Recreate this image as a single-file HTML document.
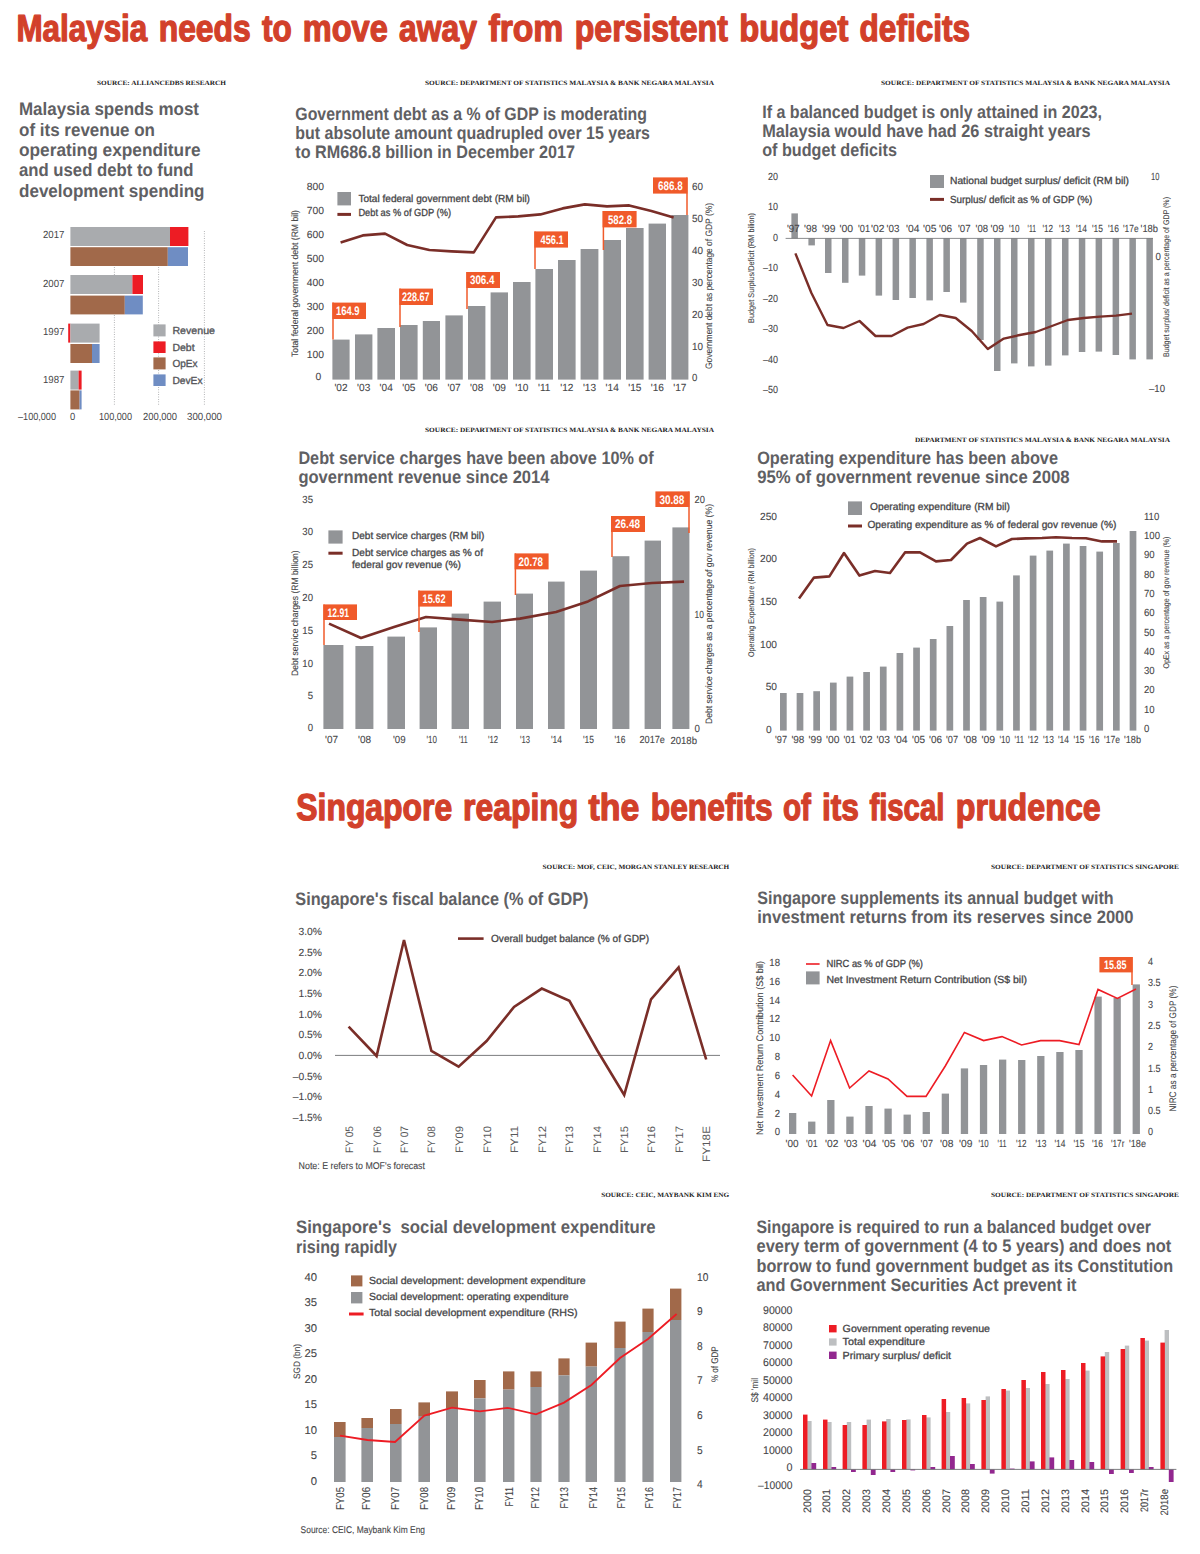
<!DOCTYPE html>
<html lang="en">
<head>
<meta charset="utf-8">
<title>Malaysia needs to move away from persistent budget deficits</title>
<style>
html,body{margin:0;padding:0;background:#fff}
body{width:1200px;height:1554px;overflow:hidden}
svg{display:block;font-family:"Liberation Sans",sans-serif;fill:#454547}
</style>
</head>
<body>
<svg width="1200" height="1554" viewBox="0 0 1200 1554" text-rendering="geometricPrecision">
<rect width="1200" height="1554" fill="#ffffff"/>
<text y="41" font-size="37.5" font-weight="bold" fill="#d2402a" stroke="#d2402a" stroke-width="1.3" stroke-linejoin="round"><tspan x="16.4" textLength="130.9" lengthAdjust="spacingAndGlyphs">Malaysia</tspan> <tspan x="158.7" textLength="92.1" lengthAdjust="spacingAndGlyphs">needs</tspan> <tspan x="262.1" textLength="29.8" lengthAdjust="spacingAndGlyphs">to</tspan> <tspan x="302.8" textLength="85" lengthAdjust="spacingAndGlyphs">move</tspan> <tspan x="399.1" textLength="77.9" lengthAdjust="spacingAndGlyphs">away</tspan> <tspan x="488.4" textLength="75" lengthAdjust="spacingAndGlyphs">from</tspan> <tspan x="574.8" textLength="153" lengthAdjust="spacingAndGlyphs">persistent</tspan> <tspan x="739.2" textLength="109.1" lengthAdjust="spacingAndGlyphs">budget</tspan> <tspan x="859.6" textLength="110.5" lengthAdjust="spacingAndGlyphs">deficits</tspan></text>
<text y="819.5" font-size="37.5" font-weight="bold" fill="#d2402a" stroke="#d2402a" stroke-width="1.3" stroke-linejoin="round"><tspan x="296.3" textLength="155.9" lengthAdjust="spacingAndGlyphs">Singapore</tspan> <tspan x="463" textLength="115.3" lengthAdjust="spacingAndGlyphs">reaping</tspan> <tspan x="588.6" textLength="50.8" lengthAdjust="spacingAndGlyphs">the</tspan> <tspan x="650.8" textLength="121.8" lengthAdjust="spacingAndGlyphs">benefits</tspan> <tspan x="783" textLength="28" lengthAdjust="spacingAndGlyphs">of</tspan> <tspan x="822" textLength="37" lengthAdjust="spacingAndGlyphs">its</tspan> <tspan x="869.4" textLength="75" lengthAdjust="spacingAndGlyphs">fiscal</tspan> <tspan x="955.7" textLength="145.1" lengthAdjust="spacingAndGlyphs">prudence</tspan></text>
<text x="97" y="85.3" font-size="6.6" font-weight="bold" font-family='"Liberation Serif", serif' fill="#1a1a1a" textLength="129" lengthAdjust="spacingAndGlyphs">SOURCE: ALLIANCEDBS RESEARCH</text>
<text x="19" y="115" font-size="18" font-weight="bold" fill="#5f6063" textLength="180" lengthAdjust="spacingAndGlyphs">Malaysia spends most</text>
<text x="19" y="135.7" font-size="18" font-weight="bold" fill="#5f6063" textLength="136" lengthAdjust="spacingAndGlyphs">of its revenue on</text>
<text x="19" y="156.2" font-size="18" font-weight="bold" fill="#5f6063" textLength="181.5" lengthAdjust="spacingAndGlyphs">operating expenditure</text>
<text x="19" y="176.3" font-size="18" font-weight="bold" fill="#5f6063" textLength="174.5" lengthAdjust="spacingAndGlyphs">and used debt to fund</text>
<text x="19" y="197" font-size="18" font-weight="bold" fill="#5f6063" textLength="185.5" lengthAdjust="spacingAndGlyphs">development spending</text>
<line x1="114.4" y1="231" x2="114.4" y2="406" stroke="#8a8c8e" stroke-width="0.8" stroke-dasharray="0.8 1.6"/>
<line x1="158.6" y1="231" x2="158.6" y2="406" stroke="#8a8c8e" stroke-width="0.8" stroke-dasharray="0.8 1.6"/>
<line x1="204.4" y1="231" x2="204.4" y2="406" stroke="#8a8c8e" stroke-width="0.8" stroke-dasharray="0.8 1.6"/>
<rect x="70.4" y="227" width="118" height="39" fill="#fff"/>
<rect x="70.4" y="275" width="72.6" height="39.4" fill="#fff"/>
<rect x="70.4" y="227" width="99.6" height="19" fill="#a9abae"/>
<rect x="170" y="227" width="18.4" height="19" fill="#ed1c24"/>
<rect x="70.4" y="247.2" width="97.4" height="18.8" fill="#a1694a"/>
<rect x="167.8" y="247.2" width="20.2" height="18.8" fill="#6f8dc3"/>
<rect x="70.4" y="275" width="62" height="19" fill="#a9abae"/>
<rect x="132.4" y="275" width="10.6" height="19" fill="#ed1c24"/>
<rect x="70.4" y="295.6" width="54.4" height="18.8" fill="#a1694a"/>
<rect x="124.8" y="295.6" width="18" height="18.8" fill="#6f8dc3"/>
<rect x="68.2" y="323.6" width="2.2" height="19" fill="#ed1c24"/>
<rect x="70.4" y="323.6" width="29.2" height="19" fill="#a9abae"/>
<rect x="70.4" y="344" width="21.6" height="19" fill="#a1694a"/>
<rect x="92" y="344" width="7.6" height="19" fill="#6f8dc3"/>
<rect x="70.4" y="370.6" width="8.2" height="19" fill="#a9abae"/>
<rect x="78.6" y="370.6" width="3" height="19" fill="#ed1c24"/>
<rect x="70.4" y="390.4" width="9.2" height="19" fill="#a1694a"/>
<rect x="79.6" y="390.4" width="2" height="19" fill="#6f8dc3"/>
<text x="43" y="238" font-size="10.3" textLength="21.4" lengthAdjust="spacingAndGlyphs">2017</text>
<text x="43" y="287" font-size="10.3" textLength="21.4" lengthAdjust="spacingAndGlyphs">2007</text>
<text x="43" y="335" font-size="10.3" textLength="21.4" lengthAdjust="spacingAndGlyphs">1997</text>
<text x="43" y="383" font-size="10.3" textLength="21.4" lengthAdjust="spacingAndGlyphs">1987</text>
<text x="18" y="419.6" font-size="10.3" textLength="38" lengthAdjust="spacingAndGlyphs">–100,000</text>
<text x="70" y="419.6" font-size="10.3" textLength="5.2" lengthAdjust="spacingAndGlyphs">0</text>
<text x="99" y="419.6" font-size="10.3" textLength="33" lengthAdjust="spacingAndGlyphs">100,000</text>
<text x="143" y="419.6" font-size="10.3" textLength="34" lengthAdjust="spacingAndGlyphs">200,000</text>
<text x="187" y="419.6" font-size="10.3" textLength="35" lengthAdjust="spacingAndGlyphs">300,000</text>
<rect x="153.4" y="324.4" width="12.2" height="12" fill="#a9abae"/>
<text x="172.4" y="334.4" font-size="10.3" fill="#55565a" textLength="42.6" lengthAdjust="spacingAndGlyphs" stroke="#55565a" stroke-width="0.35" stroke-linejoin="round">Revenue</text>
<rect x="153.4" y="341.4" width="12.2" height="11.6" fill="#ed1c24"/>
<text x="172.4" y="351.4" font-size="10.3" fill="#55565a" textLength="22.2" lengthAdjust="spacingAndGlyphs" stroke="#55565a" stroke-width="0.35" stroke-linejoin="round">Debt</text>
<rect x="153.4" y="357.4" width="12.2" height="12" fill="#a1694a"/>
<text x="172.4" y="367.4" font-size="10.3" fill="#55565a" textLength="25.2" lengthAdjust="spacingAndGlyphs" stroke="#55565a" stroke-width="0.35" stroke-linejoin="round">OpEx</text>
<rect x="153.4" y="374.4" width="12.2" height="11.6" fill="#6f8dc3"/>
<text x="172.4" y="384.4" font-size="10.3" fill="#55565a" textLength="30.2" lengthAdjust="spacingAndGlyphs" stroke="#55565a" stroke-width="0.35" stroke-linejoin="round">DevEx</text>
<text x="425" y="85.3" font-size="6.6" font-weight="bold" font-family='"Liberation Serif", serif' fill="#1a1a1a" textLength="289" lengthAdjust="spacingAndGlyphs">SOURCE: DEPARTMENT OF STATISTICS MALAYSIA &amp; BANK NEGARA MALAYSIA</text>
<text x="295.3" y="119.8" font-size="18" font-weight="bold" fill="#5f6063" textLength="351.7" lengthAdjust="spacingAndGlyphs">Government debt as a % of GDP is moderating</text>
<text x="295.3" y="139" font-size="18" font-weight="bold" fill="#5f6063" textLength="354.7" lengthAdjust="spacingAndGlyphs">but absolute amount quadrupled over 15 years</text>
<text x="295.3" y="158" font-size="18" font-weight="bold" fill="#5f6063" textLength="279.7" lengthAdjust="spacingAndGlyphs">to RM686.8 billion in December 2017</text>
<rect x="332.4" y="339.6" width="17.2" height="40" fill="#929497"/>
<rect x="355" y="334.4" width="17.4" height="45.2" fill="#929497"/>
<rect x="377.4" y="328" width="17.6" height="51.6" fill="#929497"/>
<rect x="400" y="325" width="17.6" height="54.6" fill="#929497"/>
<rect x="422.8" y="321" width="17.2" height="58.6" fill="#929497"/>
<rect x="445.4" y="315.4" width="17.4" height="64.2" fill="#929497"/>
<rect x="468" y="306" width="17.4" height="73.6" fill="#929497"/>
<rect x="490.6" y="292.4" width="17.4" height="87.2" fill="#929497"/>
<rect x="513" y="282" width="17.6" height="97.6" fill="#929497"/>
<rect x="535.4" y="269" width="17.6" height="110.6" fill="#929497"/>
<rect x="558" y="260" width="17.6" height="119.6" fill="#929497"/>
<rect x="580.6" y="249" width="17.8" height="130.6" fill="#929497"/>
<rect x="603.4" y="240" width="17.6" height="139.6" fill="#929497"/>
<rect x="626" y="228" width="17.6" height="151.6" fill="#929497"/>
<rect x="648.6" y="223.6" width="17.4" height="156" fill="#929497"/>
<rect x="671.4" y="215" width="17" height="164.6" fill="#929497"/>
<text x="324" y="189.6" font-size="10.3" text-anchor="end" textLength="17.19" lengthAdjust="spacingAndGlyphs" stroke="#454547" stroke-width="0.1" stroke-linejoin="round">800</text>
<text x="324" y="213.6" font-size="10.3" text-anchor="end" textLength="17.19" lengthAdjust="spacingAndGlyphs" stroke="#454547" stroke-width="0.1" stroke-linejoin="round">700</text>
<text x="324" y="237.6" font-size="10.3" text-anchor="end" textLength="17.19" lengthAdjust="spacingAndGlyphs" stroke="#454547" stroke-width="0.1" stroke-linejoin="round">600</text>
<text x="324" y="261.6" font-size="10.3" text-anchor="end" textLength="17.19" lengthAdjust="spacingAndGlyphs" stroke="#454547" stroke-width="0.1" stroke-linejoin="round">500</text>
<text x="324" y="285.6" font-size="10.3" text-anchor="end" textLength="17.19" lengthAdjust="spacingAndGlyphs" stroke="#454547" stroke-width="0.1" stroke-linejoin="round">400</text>
<text x="324" y="309.6" font-size="10.3" text-anchor="end" textLength="17.19" lengthAdjust="spacingAndGlyphs" stroke="#454547" stroke-width="0.1" stroke-linejoin="round">300</text>
<text x="324" y="333.6" font-size="10.3" text-anchor="end" textLength="17.19" lengthAdjust="spacingAndGlyphs" stroke="#454547" stroke-width="0.1" stroke-linejoin="round">200</text>
<text x="324" y="357.6" font-size="10.3" text-anchor="end" textLength="17.19" lengthAdjust="spacingAndGlyphs" stroke="#454547" stroke-width="0.1" stroke-linejoin="round">100</text>
<text x="321.2" y="379.8" font-size="10.3" text-anchor="end" textLength="5.73" lengthAdjust="spacingAndGlyphs" stroke="#454547" stroke-width="0.1" stroke-linejoin="round">0</text>
<text x="692" y="189.6" font-size="10.3" textLength="11" lengthAdjust="spacingAndGlyphs" stroke="#454547" stroke-width="0.1" stroke-linejoin="round">60</text>
<text x="692" y="221.6" font-size="10.3" textLength="11" lengthAdjust="spacingAndGlyphs" stroke="#454547" stroke-width="0.1" stroke-linejoin="round">50</text>
<text x="692" y="253.6" font-size="10.3" textLength="11" lengthAdjust="spacingAndGlyphs" stroke="#454547" stroke-width="0.1" stroke-linejoin="round">40</text>
<text x="692" y="285.6" font-size="10.3" textLength="11" lengthAdjust="spacingAndGlyphs" stroke="#454547" stroke-width="0.1" stroke-linejoin="round">30</text>
<text x="692" y="317.6" font-size="10.3" textLength="11" lengthAdjust="spacingAndGlyphs" stroke="#454547" stroke-width="0.1" stroke-linejoin="round">20</text>
<text x="692" y="349.6" font-size="10.3" textLength="11" lengthAdjust="spacingAndGlyphs" stroke="#454547" stroke-width="0.1" stroke-linejoin="round">10</text>
<text x="692" y="381" font-size="10.3" textLength="5.33" lengthAdjust="spacingAndGlyphs" stroke="#454547" stroke-width="0.1" stroke-linejoin="round">0</text>
<text x="341" y="390.6" font-size="10.3" text-anchor="middle" textLength="13.16" lengthAdjust="spacingAndGlyphs" stroke="#454547" stroke-width="0.1" stroke-linejoin="round">&#x27;02</text>
<text x="363.7" y="390.6" font-size="10.3" text-anchor="middle" textLength="13.16" lengthAdjust="spacingAndGlyphs" stroke="#454547" stroke-width="0.1" stroke-linejoin="round">&#x27;03</text>
<text x="386.2" y="390.6" font-size="10.3" text-anchor="middle" textLength="13.16" lengthAdjust="spacingAndGlyphs" stroke="#454547" stroke-width="0.1" stroke-linejoin="round">&#x27;04</text>
<text x="408.8" y="390.6" font-size="10.3" text-anchor="middle" textLength="13.16" lengthAdjust="spacingAndGlyphs" stroke="#454547" stroke-width="0.1" stroke-linejoin="round">&#x27;05</text>
<text x="431.4" y="390.6" font-size="10.3" text-anchor="middle" textLength="13.16" lengthAdjust="spacingAndGlyphs" stroke="#454547" stroke-width="0.1" stroke-linejoin="round">&#x27;06</text>
<text x="454.1" y="390.6" font-size="10.3" text-anchor="middle" textLength="13.16" lengthAdjust="spacingAndGlyphs" stroke="#454547" stroke-width="0.1" stroke-linejoin="round">&#x27;07</text>
<text x="476.7" y="390.6" font-size="10.3" text-anchor="middle" textLength="13.16" lengthAdjust="spacingAndGlyphs" stroke="#454547" stroke-width="0.1" stroke-linejoin="round">&#x27;08</text>
<text x="499.3" y="390.6" font-size="10.3" text-anchor="middle" textLength="13.16" lengthAdjust="spacingAndGlyphs" stroke="#454547" stroke-width="0.1" stroke-linejoin="round">&#x27;09</text>
<text x="521.8" y="390.6" font-size="10.3" text-anchor="middle" textLength="13.16" lengthAdjust="spacingAndGlyphs" stroke="#454547" stroke-width="0.1" stroke-linejoin="round">&#x27;10</text>
<text x="544.2" y="390.6" font-size="10.3" text-anchor="middle" textLength="12.41" lengthAdjust="spacingAndGlyphs" stroke="#454547" stroke-width="0.1" stroke-linejoin="round">&#x27;11</text>
<text x="566.8" y="390.6" font-size="10.3" text-anchor="middle" textLength="13.16" lengthAdjust="spacingAndGlyphs" stroke="#454547" stroke-width="0.1" stroke-linejoin="round">&#x27;12</text>
<text x="589.5" y="390.6" font-size="10.3" text-anchor="middle" textLength="13.16" lengthAdjust="spacingAndGlyphs" stroke="#454547" stroke-width="0.1" stroke-linejoin="round">&#x27;13</text>
<text x="612.2" y="390.6" font-size="10.3" text-anchor="middle" textLength="13.16" lengthAdjust="spacingAndGlyphs" stroke="#454547" stroke-width="0.1" stroke-linejoin="round">&#x27;14</text>
<text x="634.8" y="390.6" font-size="10.3" text-anchor="middle" textLength="13.16" lengthAdjust="spacingAndGlyphs" stroke="#454547" stroke-width="0.1" stroke-linejoin="round">&#x27;15</text>
<text x="657.3" y="390.6" font-size="10.3" text-anchor="middle" textLength="13.16" lengthAdjust="spacingAndGlyphs" stroke="#454547" stroke-width="0.1" stroke-linejoin="round">&#x27;16</text>
<text x="679.9" y="390.6" font-size="10.3" text-anchor="middle" textLength="13.16" lengthAdjust="spacingAndGlyphs" stroke="#454547" stroke-width="0.1" stroke-linejoin="round">&#x27;17</text>
<polyline fill="none" stroke="#7a2e28" stroke-width="2.6" stroke-linejoin="round" stroke-linecap="butt" points="340.6,242.4 362.8,235.4 385,233.6 407.2,245 429.4,250 451.6,251.4 473.8,252.4 496,217.4 518.2,216.4 540.4,214.4 562.6,208.4 584.8,204.4 607,206.4 629.2,205.4 651.4,211 673.6,217.4"/>
<rect x="337.4" y="192" width="13.6" height="13.4" fill="#929497"/>
<text x="358.4" y="201.6" font-size="10.3" textLength="171.6" lengthAdjust="spacingAndGlyphs" stroke="#454547" stroke-width="0.3" stroke-linejoin="round">Total federal government debt (RM bil)</text>
<line x1="337.4" y1="214.4" x2="351" y2="214.4" stroke="#7a2e28" stroke-width="3"/>
<text x="358.4" y="215.6" font-size="10.3" textLength="92.6" lengthAdjust="spacingAndGlyphs" stroke="#454547" stroke-width="0.3" stroke-linejoin="round">Debt as % of GDP (%)</text>
<text x="298" y="357" font-size="9.3" textLength="147" lengthAdjust="spacingAndGlyphs" transform="rotate(-90 298 357)" stroke="#454547" stroke-width="0.1" stroke-linejoin="round">Total federal government debt (RM bil)</text>
<text x="712" y="369" font-size="9.3" textLength="166" lengthAdjust="spacingAndGlyphs" transform="rotate(-90 712 369)" stroke="#454547" stroke-width="0.1" stroke-linejoin="round">Government debt as percentage of GDP (%)</text>
<line x1="333" y1="302.6" x2="333" y2="339.6" stroke="#f05a2a" stroke-width="1.5"/>
<rect x="332.4" y="302.6" width="33.6" height="16.4" fill="#f05a2a"/>
<text x="336" y="315.14" font-size="12.4" font-weight="bold" fill="#fff" textLength="23.6" lengthAdjust="spacingAndGlyphs">164.9</text>
<line x1="400" y1="288.6" x2="400" y2="327" stroke="#f05a2a" stroke-width="1.5"/>
<rect x="399.4" y="288.6" width="33.6" height="16.4" fill="#f05a2a"/>
<text x="402" y="301.14" font-size="12.4" font-weight="bold" fill="#fff" textLength="27.6" lengthAdjust="spacingAndGlyphs">228.67</text>
<line x1="467" y1="272" x2="467" y2="309" stroke="#f05a2a" stroke-width="1.5"/>
<rect x="466.4" y="272" width="33.6" height="16" fill="#f05a2a"/>
<text x="470" y="284.34" font-size="12.4" font-weight="bold" fill="#fff" textLength="24.4" lengthAdjust="spacingAndGlyphs">306.4</text>
<line x1="535" y1="231.4" x2="535" y2="269" stroke="#f05a2a" stroke-width="1.5"/>
<rect x="534.4" y="231.4" width="33.6" height="16.2" fill="#f05a2a"/>
<text x="540.6" y="243.84" font-size="12.4" font-weight="bold" fill="#fff" textLength="23" lengthAdjust="spacingAndGlyphs">456.1</text>
<line x1="603.4" y1="211" x2="603.4" y2="250" stroke="#f05a2a" stroke-width="1.5"/>
<rect x="602.6" y="211" width="34" height="16.4" fill="#f05a2a"/>
<text x="608" y="223.54" font-size="12.4" font-weight="bold" fill="#fff" textLength="24" lengthAdjust="spacingAndGlyphs">582.8</text>
<line x1="687" y1="177.4" x2="687" y2="215" stroke="#f05a2a" stroke-width="1.5"/>
<rect x="653" y="177.4" width="34.4" height="16.2" fill="#f05a2a"/>
<text x="658" y="189.84" font-size="12.4" font-weight="bold" fill="#fff" textLength="24.6" lengthAdjust="spacingAndGlyphs">686.8</text>
<text x="881" y="85.3" font-size="6.6" font-weight="bold" font-family='"Liberation Serif", serif' fill="#1a1a1a" textLength="289" lengthAdjust="spacingAndGlyphs">SOURCE: DEPARTMENT OF STATISTICS MALAYSIA  &amp; BANK NEGARA MALAYSIA</text>
<text x="762.2" y="118" font-size="18" font-weight="bold" fill="#5f6063" textLength="339.8" lengthAdjust="spacingAndGlyphs">If a balanced budget is only attained in 2023,</text>
<text x="762.2" y="137" font-size="18" font-weight="bold" fill="#5f6063" textLength="328.5" lengthAdjust="spacingAndGlyphs">Malaysia would have had 26 straight years</text>
<text x="762.2" y="156.2" font-size="18" font-weight="bold" fill="#5f6063" textLength="134.8" lengthAdjust="spacingAndGlyphs">of budget deficits</text>
<rect x="791.4" y="213.4" width="6.5" height="25" fill="#929497"/>
<rect x="808.4" y="238.4" width="6.5" height="7" fill="#929497"/>
<rect x="825" y="238.4" width="6.5" height="34.6" fill="#929497"/>
<rect x="842" y="238.4" width="6.5" height="44.4" fill="#929497"/>
<rect x="858.8" y="238.4" width="6.5" height="37.2" fill="#929497"/>
<rect x="875.6" y="238.4" width="6.5" height="57.2" fill="#929497"/>
<rect x="892.6" y="238.4" width="6.5" height="61.6" fill="#929497"/>
<rect x="909.4" y="238.4" width="6.5" height="59.6" fill="#929497"/>
<rect x="926.4" y="238.4" width="6.5" height="62" fill="#929497"/>
<rect x="943.4" y="238.4" width="6.5" height="53.6" fill="#929497"/>
<rect x="960" y="238.4" width="6.5" height="64.2" fill="#929497"/>
<rect x="977.2" y="238.4" width="6.5" height="101.6" fill="#929497"/>
<rect x="994" y="238.4" width="6.5" height="132.6" fill="#929497"/>
<rect x="1011" y="238.4" width="6.5" height="125" fill="#929497"/>
<rect x="1028" y="238.4" width="6.5" height="128" fill="#929497"/>
<rect x="1045" y="238.4" width="6.5" height="127.2" fill="#929497"/>
<rect x="1062" y="238.4" width="6.5" height="117" fill="#929497"/>
<rect x="1078.8" y="238.4" width="6.5" height="113.6" fill="#929497"/>
<rect x="1095.6" y="238.4" width="6.5" height="113.2" fill="#929497"/>
<rect x="1112.6" y="238.4" width="6.5" height="116.6" fill="#929497"/>
<rect x="1129.4" y="238.4" width="6.5" height="121" fill="#929497"/>
<rect x="1146.4" y="238.4" width="6.5" height="121" fill="#929497"/>
<line x1="785.6" y1="238.4" x2="1153" y2="238.4" stroke="#6d6e71" stroke-width="0.8"/>
<text x="787" y="231.6" font-size="10.3" textLength="12.6" lengthAdjust="spacingAndGlyphs" stroke="#454547" stroke-width="0.1" stroke-linejoin="round">&#x27;97</text>
<text x="804" y="231.6" font-size="10.3" textLength="13" lengthAdjust="spacingAndGlyphs" stroke="#454547" stroke-width="0.1" stroke-linejoin="round">&#x27;98</text>
<text x="822" y="231.6" font-size="10.3" textLength="13.4" lengthAdjust="spacingAndGlyphs" stroke="#454547" stroke-width="0.1" stroke-linejoin="round">&#x27;99</text>
<text x="839.4" y="231.6" font-size="10.3" textLength="13.6" lengthAdjust="spacingAndGlyphs" stroke="#454547" stroke-width="0.1" stroke-linejoin="round">&#x27;00</text>
<text x="858" y="231.6" font-size="10.3" textLength="12" lengthAdjust="spacingAndGlyphs" stroke="#454547" stroke-width="0.1" stroke-linejoin="round">&#x27;01</text>
<text x="871" y="231.6" font-size="10.3" textLength="13.4" lengthAdjust="spacingAndGlyphs" stroke="#454547" stroke-width="0.1" stroke-linejoin="round">&#x27;02</text>
<text x="886.6" y="231.6" font-size="10.3" textLength="12.8" lengthAdjust="spacingAndGlyphs" stroke="#454547" stroke-width="0.1" stroke-linejoin="round">&#x27;03</text>
<text x="906" y="231.6" font-size="10.3" textLength="13.4" lengthAdjust="spacingAndGlyphs" stroke="#454547" stroke-width="0.1" stroke-linejoin="round">&#x27;04</text>
<text x="923" y="231.6" font-size="10.3" textLength="13.4" lengthAdjust="spacingAndGlyphs" stroke="#454547" stroke-width="0.1" stroke-linejoin="round">&#x27;05</text>
<text x="939" y="231.6" font-size="10.3" textLength="13" lengthAdjust="spacingAndGlyphs" stroke="#454547" stroke-width="0.1" stroke-linejoin="round">&#x27;06</text>
<text x="958" y="231.6" font-size="10.3" textLength="12.6" lengthAdjust="spacingAndGlyphs" stroke="#454547" stroke-width="0.1" stroke-linejoin="round">&#x27;07</text>
<text x="975.6" y="231.6" font-size="10.3" textLength="12.4" lengthAdjust="spacingAndGlyphs" stroke="#454547" stroke-width="0.1" stroke-linejoin="round">&#x27;08</text>
<text x="990.6" y="231.6" font-size="10.3" textLength="13.4" lengthAdjust="spacingAndGlyphs" stroke="#454547" stroke-width="0.1" stroke-linejoin="round">&#x27;09</text>
<text x="1009" y="231.6" font-size="10.3" textLength="10.6" lengthAdjust="spacingAndGlyphs" stroke="#454547" stroke-width="0.1" stroke-linejoin="round">&#x27;10</text>
<text x="1027.6" y="231.6" font-size="10.3" textLength="8.4" lengthAdjust="spacingAndGlyphs" stroke="#454547" stroke-width="0.1" stroke-linejoin="round">&#x27;11</text>
<text x="1042.4" y="231.6" font-size="10.3" textLength="10.6" lengthAdjust="spacingAndGlyphs" stroke="#454547" stroke-width="0.1" stroke-linejoin="round">&#x27;12</text>
<text x="1059" y="231.6" font-size="10.3" textLength="11" lengthAdjust="spacingAndGlyphs" stroke="#454547" stroke-width="0.1" stroke-linejoin="round">&#x27;13</text>
<text x="1076" y="231.6" font-size="10.3" textLength="11" lengthAdjust="spacingAndGlyphs" stroke="#454547" stroke-width="0.1" stroke-linejoin="round">&#x27;14</text>
<text x="1092" y="231.6" font-size="10.3" textLength="11" lengthAdjust="spacingAndGlyphs" stroke="#454547" stroke-width="0.1" stroke-linejoin="round">&#x27;15</text>
<text x="1108" y="231.6" font-size="10.3" textLength="11" lengthAdjust="spacingAndGlyphs" stroke="#454547" stroke-width="0.1" stroke-linejoin="round">&#x27;16</text>
<text x="1123" y="231.6" font-size="10.3" textLength="15.6" lengthAdjust="spacingAndGlyphs" stroke="#454547" stroke-width="0.1" stroke-linejoin="round">&#x27;17e</text>
<text x="1140.6" y="231.6" font-size="10.3" textLength="17.4" lengthAdjust="spacingAndGlyphs" stroke="#454547" stroke-width="0.1" stroke-linejoin="round">&#x27;18b</text>
<text x="778" y="179.6" font-size="10.3" text-anchor="end" textLength="9.97" lengthAdjust="spacingAndGlyphs" stroke="#454547" stroke-width="0.1" stroke-linejoin="round">20</text>
<text x="778" y="210.1" font-size="10.3" text-anchor="end" textLength="9.97" lengthAdjust="spacingAndGlyphs" stroke="#454547" stroke-width="0.1" stroke-linejoin="round">10</text>
<text x="778" y="240.6" font-size="10.3" text-anchor="end" textLength="4.98" lengthAdjust="spacingAndGlyphs" stroke="#454547" stroke-width="0.1" stroke-linejoin="round">0</text>
<text x="778" y="271.1" font-size="10.3" text-anchor="end" textLength="14.95" lengthAdjust="spacingAndGlyphs" stroke="#454547" stroke-width="0.1" stroke-linejoin="round">–10</text>
<text x="778" y="301.6" font-size="10.3" text-anchor="end" textLength="14.95" lengthAdjust="spacingAndGlyphs" stroke="#454547" stroke-width="0.1" stroke-linejoin="round">–20</text>
<text x="778" y="332.1" font-size="10.3" text-anchor="end" textLength="14.95" lengthAdjust="spacingAndGlyphs" stroke="#454547" stroke-width="0.1" stroke-linejoin="round">–30</text>
<text x="778" y="362.6" font-size="10.3" text-anchor="end" textLength="14.95" lengthAdjust="spacingAndGlyphs" stroke="#454547" stroke-width="0.1" stroke-linejoin="round">–40</text>
<text x="778" y="393.1" font-size="10.3" text-anchor="end" textLength="14.95" lengthAdjust="spacingAndGlyphs" stroke="#454547" stroke-width="0.1" stroke-linejoin="round">–50</text>
<text x="1151" y="179.6" font-size="10.3" textLength="8.4" lengthAdjust="spacingAndGlyphs" stroke="#454547" stroke-width="0.1" stroke-linejoin="round">10</text>
<text x="1155.6" y="260.4" font-size="10.3" textLength="5.4" lengthAdjust="spacingAndGlyphs" stroke="#454547" stroke-width="0.1" stroke-linejoin="round">0</text>
<text x="1149" y="392.4" font-size="10.3" textLength="16" lengthAdjust="spacingAndGlyphs" stroke="#454547" stroke-width="0.1" stroke-linejoin="round">–10</text>
<polyline fill="none" stroke="#7a2e28" stroke-width="2.4" stroke-linejoin="round" stroke-linecap="butt" points="795.4,253.4 811.4,293 827.5,325 843.5,328 859.5,321 875.5,336 891.6,336 907.6,327.6 923.6,324 939.7,315 955.7,318 971.7,331 987.8,349 1003.8,338.6 1019.8,335 1035.8,332 1051.9,326 1067.9,320 1083.9,318 1100,316.6 1116,315.6 1132,313.6"/>
<rect x="930" y="175" width="14" height="13" fill="#929497"/>
<text x="950" y="184.4" font-size="10.3" textLength="179" lengthAdjust="spacingAndGlyphs" stroke="#454547" stroke-width="0.3" stroke-linejoin="round">National budget surplus/ deficit (RM bil)</text>
<line x1="930" y1="199.4" x2="944" y2="199.4" stroke="#7a2e28" stroke-width="3"/>
<text x="950" y="202.6" font-size="10.3" textLength="142.4" lengthAdjust="spacingAndGlyphs" stroke="#454547" stroke-width="0.3" stroke-linejoin="round">Surplus/ deficit as % of GDP (%)</text>
<text x="754.4" y="323" font-size="8.2" textLength="110" lengthAdjust="spacingAndGlyphs" transform="rotate(-90 754.4 323)" stroke="#454547" stroke-width="0.1" stroke-linejoin="round">Budget Surplus/Deficit (RM bilion)</text>
<text x="1169" y="357" font-size="8.2" textLength="160" lengthAdjust="spacingAndGlyphs" transform="rotate(-90 1169 357)" stroke="#454547" stroke-width="0.1" stroke-linejoin="round">Budget surplus/ deficit as a percentage of GDP (%)</text>
<text x="425" y="431.5" font-size="6.6" font-weight="bold" font-family='"Liberation Serif", serif' fill="#1a1a1a" textLength="289" lengthAdjust="spacingAndGlyphs">SOURCE: DEPARTMENT OF STATISTICS MALAYSIA &amp; BANK NEGARA MALAYSIA</text>
<text x="298.4" y="463.5" font-size="18" font-weight="bold" fill="#5f6063" textLength="355.3" lengthAdjust="spacingAndGlyphs">Debt service charges have been above 10% of</text>
<text x="298.4" y="482.7" font-size="18" font-weight="bold" fill="#5f6063" textLength="251.1" lengthAdjust="spacingAndGlyphs">government revenue since 2014</text>
<rect x="323.4" y="645" width="20" height="84" fill="#929497"/>
<rect x="355.4" y="646" width="18" height="83" fill="#929497"/>
<rect x="387.4" y="636.6" width="17.6" height="92.4" fill="#929497"/>
<rect x="419.6" y="627.4" width="17.4" height="101.6" fill="#929497"/>
<rect x="451.6" y="613.6" width="17.4" height="115.4" fill="#929497"/>
<rect x="483.6" y="601.6" width="17.4" height="127.4" fill="#929497"/>
<rect x="516" y="593.6" width="17" height="135.4" fill="#929497"/>
<rect x="548" y="581.6" width="16.6" height="147.4" fill="#929497"/>
<rect x="580" y="570.6" width="17" height="158.4" fill="#929497"/>
<rect x="612.4" y="556.2" width="17" height="172.8" fill="#929497"/>
<rect x="644.6" y="540.6" width="16.4" height="188.4" fill="#929497"/>
<rect x="672.4" y="527.4" width="17" height="201.6" fill="#929497"/>
<text x="313" y="502.6" font-size="10.3" text-anchor="end" textLength="10.66" lengthAdjust="spacingAndGlyphs" stroke="#454547" stroke-width="0.1" stroke-linejoin="round">35</text>
<text x="313" y="535.4" font-size="10.3" text-anchor="end" textLength="10.66" lengthAdjust="spacingAndGlyphs" stroke="#454547" stroke-width="0.1" stroke-linejoin="round">30</text>
<text x="313" y="568.2" font-size="10.3" text-anchor="end" textLength="10.66" lengthAdjust="spacingAndGlyphs" stroke="#454547" stroke-width="0.1" stroke-linejoin="round">25</text>
<text x="313" y="601" font-size="10.3" text-anchor="end" textLength="10.66" lengthAdjust="spacingAndGlyphs" stroke="#454547" stroke-width="0.1" stroke-linejoin="round">20</text>
<text x="313" y="633.8" font-size="10.3" text-anchor="end" textLength="10.66" lengthAdjust="spacingAndGlyphs" stroke="#454547" stroke-width="0.1" stroke-linejoin="round">15</text>
<text x="313" y="666.6" font-size="10.3" text-anchor="end" textLength="10.66" lengthAdjust="spacingAndGlyphs" stroke="#454547" stroke-width="0.1" stroke-linejoin="round">10</text>
<text x="313" y="699.4" font-size="10.3" text-anchor="end" textLength="5.33" lengthAdjust="spacingAndGlyphs" stroke="#454547" stroke-width="0.1" stroke-linejoin="round">5</text>
<text x="313" y="731" font-size="10.3" text-anchor="end" textLength="5.33" lengthAdjust="spacingAndGlyphs" stroke="#454547" stroke-width="0.1" stroke-linejoin="round">0</text>
<text x="694.6" y="502.6" font-size="10.3" textLength="10.4" lengthAdjust="spacingAndGlyphs" stroke="#454547" stroke-width="0.1" stroke-linejoin="round">20</text>
<text x="694.6" y="617.6" font-size="10.3" textLength="9.4" lengthAdjust="spacingAndGlyphs" stroke="#454547" stroke-width="0.1" stroke-linejoin="round">10</text>
<text x="694.6" y="731.6" font-size="10.3" textLength="5.4" lengthAdjust="spacingAndGlyphs" stroke="#454547" stroke-width="0.1" stroke-linejoin="round">0</text>
<text x="325" y="742.6" font-size="10.3" textLength="13" lengthAdjust="spacingAndGlyphs" stroke="#454547" stroke-width="0.1" stroke-linejoin="round">&#x27;07</text>
<text x="358" y="742.6" font-size="10.3" textLength="13" lengthAdjust="spacingAndGlyphs" stroke="#454547" stroke-width="0.1" stroke-linejoin="round">&#x27;08</text>
<text x="393" y="742.6" font-size="10.3" textLength="12.6" lengthAdjust="spacingAndGlyphs" stroke="#454547" stroke-width="0.1" stroke-linejoin="round">&#x27;09</text>
<text x="426.6" y="742.6" font-size="10.3" textLength="10.4" lengthAdjust="spacingAndGlyphs" stroke="#454547" stroke-width="0.1" stroke-linejoin="round">&#x27;10</text>
<text x="459" y="742.6" font-size="10.3" textLength="8.6" lengthAdjust="spacingAndGlyphs" stroke="#454547" stroke-width="0.1" stroke-linejoin="round">&#x27;11</text>
<text x="488" y="742.6" font-size="10.3" textLength="10" lengthAdjust="spacingAndGlyphs" stroke="#454547" stroke-width="0.1" stroke-linejoin="round">&#x27;12</text>
<text x="520" y="742.6" font-size="10.3" textLength="10" lengthAdjust="spacingAndGlyphs" stroke="#454547" stroke-width="0.1" stroke-linejoin="round">&#x27;13</text>
<text x="551" y="742.6" font-size="10.3" textLength="11" lengthAdjust="spacingAndGlyphs" stroke="#454547" stroke-width="0.1" stroke-linejoin="round">&#x27;14</text>
<text x="583" y="742.6" font-size="10.3" textLength="11" lengthAdjust="spacingAndGlyphs" stroke="#454547" stroke-width="0.1" stroke-linejoin="round">&#x27;15</text>
<text x="614.4" y="742.6" font-size="10.3" textLength="11" lengthAdjust="spacingAndGlyphs" stroke="#454547" stroke-width="0.1" stroke-linejoin="round">&#x27;16</text>
<text x="639.4" y="742.6" font-size="10.3" textLength="25.6" lengthAdjust="spacingAndGlyphs" stroke="#454547" stroke-width="0.1" stroke-linejoin="round">2017e</text>
<text x="670.4" y="743.6" font-size="10.3" textLength="26.6" lengthAdjust="spacingAndGlyphs" stroke="#454547" stroke-width="0.1" stroke-linejoin="round">2018b</text>
<polyline fill="none" stroke="#7a2e28" stroke-width="2.6" stroke-linejoin="round" stroke-linecap="butt" points="329,623.6 361,638 394,627 426,617 460,619.6 492,622 520,618.6 556,612 588,601.4 620,586 652,583 684,581.6"/>
<rect x="328.4" y="530.4" width="14.2" height="13.2" fill="#929497"/>
<text x="352" y="539" font-size="10.3" textLength="132.4" lengthAdjust="spacingAndGlyphs" stroke="#454547" stroke-width="0.3" stroke-linejoin="round">Debt service charges (RM bil)</text>
<line x1="328.4" y1="553.2" x2="342.6" y2="553.2" stroke="#7a2e28" stroke-width="3"/>
<text x="352" y="555.6" font-size="10.3" textLength="131" lengthAdjust="spacingAndGlyphs" stroke="#454547" stroke-width="0.3" stroke-linejoin="round">Debt service charges as % of</text>
<text x="352" y="567.6" font-size="10.3" textLength="109" lengthAdjust="spacingAndGlyphs" stroke="#454547" stroke-width="0.3" stroke-linejoin="round">federal gov revenue (%)</text>
<text x="298" y="676" font-size="9.3" textLength="125.6" lengthAdjust="spacingAndGlyphs" transform="rotate(-90 298 676)" stroke="#454547" stroke-width="0.1" stroke-linejoin="round">Debt service charges (RM billion)</text>
<text x="712" y="724" font-size="9.3" textLength="220" lengthAdjust="spacingAndGlyphs" transform="rotate(-90 712 724)" stroke="#454547" stroke-width="0.1" stroke-linejoin="round">Debt service charges as a percentage of gov revenue (%)</text>
<line x1="324" y1="604.4" x2="324" y2="645" stroke="#f05a2a" stroke-width="1.5"/>
<rect x="323.4" y="604.4" width="33.6" height="15.6" fill="#f05a2a"/>
<text x="327.6" y="616.54" font-size="12.4" font-weight="bold" fill="#fff" textLength="21.4" lengthAdjust="spacingAndGlyphs">12.91</text>
<line x1="419" y1="590.6" x2="419" y2="632" stroke="#f05a2a" stroke-width="1.5"/>
<rect x="418.4" y="590.6" width="33.6" height="16" fill="#f05a2a"/>
<text x="422.6" y="602.94" font-size="12.4" font-weight="bold" fill="#fff" textLength="23" lengthAdjust="spacingAndGlyphs">15.62</text>
<line x1="515.4" y1="553.4" x2="515.4" y2="595" stroke="#f05a2a" stroke-width="1.5"/>
<rect x="514.6" y="553.4" width="34" height="16" fill="#f05a2a"/>
<text x="518.6" y="565.74" font-size="12.4" font-weight="bold" fill="#fff" textLength="24.4" lengthAdjust="spacingAndGlyphs">20.78</text>
<line x1="612" y1="516" x2="612" y2="557" stroke="#f05a2a" stroke-width="1.5"/>
<rect x="611" y="516" width="34" height="16" fill="#f05a2a"/>
<text x="615" y="528.34" font-size="12.4" font-weight="bold" fill="#fff" textLength="25" lengthAdjust="spacingAndGlyphs">26.48</text>
<line x1="689" y1="491.4" x2="689" y2="533" stroke="#f05a2a" stroke-width="1.5"/>
<rect x="655.4" y="491.4" width="34" height="15.6" fill="#f05a2a"/>
<text x="659.4" y="503.54" font-size="12.4" font-weight="bold" fill="#fff" textLength="25" lengthAdjust="spacingAndGlyphs">30.88</text>
<text x="915" y="441.8" font-size="6.6" font-weight="bold" font-family='"Liberation Serif", serif' fill="#1a1a1a" textLength="255" lengthAdjust="spacingAndGlyphs">DEPARTMENT OF STATISTICS MALAYSIA  &amp; BANK NEGARA MALAYSIA</text>
<text x="757.2" y="463.5" font-size="18" font-weight="bold" fill="#5f6063" textLength="300.8" lengthAdjust="spacingAndGlyphs">Operating expenditure has been above</text>
<text x="757.2" y="482.7" font-size="18" font-weight="bold" fill="#5f6063" textLength="312.4" lengthAdjust="spacingAndGlyphs">95% of government revenue since 2008</text>
<rect x="780" y="693" width="6.7" height="37.6" fill="#929497"/>
<rect x="796.65" y="693" width="6.7" height="37.6" fill="#929497"/>
<rect x="813.3" y="691.2" width="6.7" height="39.4" fill="#929497"/>
<rect x="829.95" y="682.6" width="6.7" height="48" fill="#929497"/>
<rect x="846.6" y="676.6" width="6.7" height="54" fill="#929497"/>
<rect x="863.25" y="672" width="6.7" height="58.6" fill="#929497"/>
<rect x="879.9" y="666.6" width="6.7" height="64" fill="#929497"/>
<rect x="896.55" y="653" width="6.7" height="77.6" fill="#929497"/>
<rect x="913.2" y="647.6" width="6.7" height="83" fill="#929497"/>
<rect x="929.85" y="639" width="6.7" height="91.6" fill="#929497"/>
<rect x="946.5" y="626" width="6.7" height="104.6" fill="#929497"/>
<rect x="963.15" y="600" width="6.7" height="130.6" fill="#929497"/>
<rect x="979.8" y="597" width="6.7" height="133.6" fill="#929497"/>
<rect x="996.45" y="601.6" width="6.7" height="129" fill="#929497"/>
<rect x="1013.1" y="575.4" width="6.7" height="155.2" fill="#929497"/>
<rect x="1029.75" y="555.6" width="6.7" height="175" fill="#929497"/>
<rect x="1046.4" y="550.6" width="6.7" height="180" fill="#929497"/>
<rect x="1063.05" y="543.6" width="6.7" height="187" fill="#929497"/>
<rect x="1079.7" y="546" width="6.7" height="184.6" fill="#929497"/>
<rect x="1096.35" y="551.6" width="6.7" height="179" fill="#929497"/>
<rect x="1113" y="543" width="6.7" height="187.6" fill="#929497"/>
<rect x="1129.65" y="531" width="6.7" height="199.6" fill="#929497"/>
<text x="777" y="519.6" font-size="10.3" text-anchor="end" textLength="17.01" lengthAdjust="spacingAndGlyphs" stroke="#454547" stroke-width="0.1" stroke-linejoin="round">250</text>
<text x="777" y="562.3" font-size="10.3" text-anchor="end" textLength="17.01" lengthAdjust="spacingAndGlyphs" stroke="#454547" stroke-width="0.1" stroke-linejoin="round">200</text>
<text x="777" y="605" font-size="10.3" text-anchor="end" textLength="17.01" lengthAdjust="spacingAndGlyphs" stroke="#454547" stroke-width="0.1" stroke-linejoin="round">150</text>
<text x="777" y="647.7" font-size="10.3" text-anchor="end" textLength="17.01" lengthAdjust="spacingAndGlyphs" stroke="#454547" stroke-width="0.1" stroke-linejoin="round">100</text>
<text x="777" y="690.4" font-size="10.3" text-anchor="end" textLength="11.34" lengthAdjust="spacingAndGlyphs" stroke="#454547" stroke-width="0.1" stroke-linejoin="round">50</text>
<text x="771.6" y="733.1" font-size="10.3" text-anchor="end" textLength="5.67" lengthAdjust="spacingAndGlyphs" stroke="#454547" stroke-width="0.1" stroke-linejoin="round">0</text>
<text x="1144" y="519.6" font-size="10.3" textLength="15.27" lengthAdjust="spacingAndGlyphs" stroke="#454547" stroke-width="0.1" stroke-linejoin="round">110</text>
<text x="1144" y="538.92" font-size="10.3" textLength="15.98" lengthAdjust="spacingAndGlyphs" stroke="#454547" stroke-width="0.1" stroke-linejoin="round">100</text>
<text x="1144" y="558.24" font-size="10.3" textLength="10.66" lengthAdjust="spacingAndGlyphs" stroke="#454547" stroke-width="0.1" stroke-linejoin="round">90</text>
<text x="1144" y="577.56" font-size="10.3" textLength="10.66" lengthAdjust="spacingAndGlyphs" stroke="#454547" stroke-width="0.1" stroke-linejoin="round">80</text>
<text x="1144" y="596.88" font-size="10.3" textLength="10.66" lengthAdjust="spacingAndGlyphs" stroke="#454547" stroke-width="0.1" stroke-linejoin="round">70</text>
<text x="1144" y="616.2" font-size="10.3" textLength="10.66" lengthAdjust="spacingAndGlyphs" stroke="#454547" stroke-width="0.1" stroke-linejoin="round">60</text>
<text x="1144" y="635.52" font-size="10.3" textLength="10.66" lengthAdjust="spacingAndGlyphs" stroke="#454547" stroke-width="0.1" stroke-linejoin="round">50</text>
<text x="1144" y="654.84" font-size="10.3" textLength="10.66" lengthAdjust="spacingAndGlyphs" stroke="#454547" stroke-width="0.1" stroke-linejoin="round">40</text>
<text x="1144" y="674.16" font-size="10.3" textLength="10.66" lengthAdjust="spacingAndGlyphs" stroke="#454547" stroke-width="0.1" stroke-linejoin="round">30</text>
<text x="1144" y="693.48" font-size="10.3" textLength="10.66" lengthAdjust="spacingAndGlyphs" stroke="#454547" stroke-width="0.1" stroke-linejoin="round">20</text>
<text x="1144" y="712.8" font-size="10.3" textLength="10.66" lengthAdjust="spacingAndGlyphs" stroke="#454547" stroke-width="0.1" stroke-linejoin="round">10</text>
<text x="1144" y="732.12" font-size="10.3" textLength="5.33" lengthAdjust="spacingAndGlyphs" stroke="#454547" stroke-width="0.1" stroke-linejoin="round">0</text>
<text x="775" y="743" font-size="10.3" textLength="12" lengthAdjust="spacingAndGlyphs" stroke="#454547" stroke-width="0.1" stroke-linejoin="round">&#x27;97</text>
<text x="791.4" y="743" font-size="10.3" textLength="13" lengthAdjust="spacingAndGlyphs" stroke="#454547" stroke-width="0.1" stroke-linejoin="round">&#x27;98</text>
<text x="808.6" y="743" font-size="10.3" textLength="13.4" lengthAdjust="spacingAndGlyphs" stroke="#454547" stroke-width="0.1" stroke-linejoin="round">&#x27;99</text>
<text x="826" y="743" font-size="10.3" textLength="13.4" lengthAdjust="spacingAndGlyphs" stroke="#454547" stroke-width="0.1" stroke-linejoin="round">&#x27;00</text>
<text x="843.4" y="743" font-size="10.3" textLength="12.2" lengthAdjust="spacingAndGlyphs" stroke="#454547" stroke-width="0.1" stroke-linejoin="round">&#x27;01</text>
<text x="859.4" y="743" font-size="10.3" textLength="13.2" lengthAdjust="spacingAndGlyphs" stroke="#454547" stroke-width="0.1" stroke-linejoin="round">&#x27;02</text>
<text x="876.6" y="743" font-size="10.3" textLength="13.4" lengthAdjust="spacingAndGlyphs" stroke="#454547" stroke-width="0.1" stroke-linejoin="round">&#x27;03</text>
<text x="894" y="743" font-size="10.3" textLength="13.6" lengthAdjust="spacingAndGlyphs" stroke="#454547" stroke-width="0.1" stroke-linejoin="round">&#x27;04</text>
<text x="912" y="743" font-size="10.3" textLength="13" lengthAdjust="spacingAndGlyphs" stroke="#454547" stroke-width="0.1" stroke-linejoin="round">&#x27;05</text>
<text x="929" y="743" font-size="10.3" textLength="13" lengthAdjust="spacingAndGlyphs" stroke="#454547" stroke-width="0.1" stroke-linejoin="round">&#x27;06</text>
<text x="946" y="743" font-size="10.3" textLength="12" lengthAdjust="spacingAndGlyphs" stroke="#454547" stroke-width="0.1" stroke-linejoin="round">&#x27;07</text>
<text x="963.6" y="743" font-size="10.3" textLength="13.4" lengthAdjust="spacingAndGlyphs" stroke="#454547" stroke-width="0.1" stroke-linejoin="round">&#x27;08</text>
<text x="981.4" y="743" font-size="10.3" textLength="13.6" lengthAdjust="spacingAndGlyphs" stroke="#454547" stroke-width="0.1" stroke-linejoin="round">&#x27;09</text>
<text x="999.4" y="743" font-size="10.3" textLength="10.6" lengthAdjust="spacingAndGlyphs" stroke="#454547" stroke-width="0.1" stroke-linejoin="round">&#x27;10</text>
<text x="1014.6" y="743" font-size="10.3" textLength="9.4" lengthAdjust="spacingAndGlyphs" stroke="#454547" stroke-width="0.1" stroke-linejoin="round">&#x27;11</text>
<text x="1028" y="743" font-size="10.3" textLength="10.4" lengthAdjust="spacingAndGlyphs" stroke="#454547" stroke-width="0.1" stroke-linejoin="round">&#x27;12</text>
<text x="1043" y="743" font-size="10.3" textLength="11" lengthAdjust="spacingAndGlyphs" stroke="#454547" stroke-width="0.1" stroke-linejoin="round">&#x27;13</text>
<text x="1058" y="743" font-size="10.3" textLength="11" lengthAdjust="spacingAndGlyphs" stroke="#454547" stroke-width="0.1" stroke-linejoin="round">&#x27;14</text>
<text x="1073.6" y="743" font-size="10.3" textLength="10.8" lengthAdjust="spacingAndGlyphs" stroke="#454547" stroke-width="0.1" stroke-linejoin="round">&#x27;15</text>
<text x="1089" y="743" font-size="10.3" textLength="10.4" lengthAdjust="spacingAndGlyphs" stroke="#454547" stroke-width="0.1" stroke-linejoin="round">&#x27;16</text>
<text x="1104" y="743" font-size="10.3" textLength="16" lengthAdjust="spacingAndGlyphs" stroke="#454547" stroke-width="0.1" stroke-linejoin="round">&#x27;17e</text>
<text x="1124" y="743" font-size="10.3" textLength="17" lengthAdjust="spacingAndGlyphs" stroke="#454547" stroke-width="0.1" stroke-linejoin="round">&#x27;18b</text>
<polyline fill="none" stroke="#7a2e28" stroke-width="2.6" stroke-linejoin="round" stroke-linecap="butt" points="799,598.6 814,577.6 829.4,576.4 844,553 859.4,575.6 875,571 890,573 905,552.4 920,552.4 936,561.4 951,560 967,543.6 980,538 996,546.4 1012,539 1026,538.4 1042,538 1056,537.2 1072,538 1086,538.2 1102,541.4 1117,541.4"/>
<rect x="848" y="501.4" width="14" height="13.6" fill="#929497"/>
<text x="870" y="510" font-size="10.3" textLength="140" lengthAdjust="spacingAndGlyphs" stroke="#454547" stroke-width="0.3" stroke-linejoin="round">Operating expenditure (RM bil)</text>
<line x1="848" y1="526" x2="862" y2="526" stroke="#7a2e28" stroke-width="3"/>
<text x="867.4" y="528" font-size="10.3" textLength="249" lengthAdjust="spacingAndGlyphs" stroke="#454547" stroke-width="0.3" stroke-linejoin="round">Operating expenditure as % of federal gov revenue (%)</text>
<text x="753.8" y="657" font-size="8.2" textLength="109" lengthAdjust="spacingAndGlyphs" transform="rotate(-90 753.8 657)" stroke="#454547" stroke-width="0.1" stroke-linejoin="round">Operating Expenditure (RM billion)</text>
<text x="1168.8" y="668.6" font-size="8.2" textLength="132" lengthAdjust="spacingAndGlyphs" transform="rotate(-90 1168.8 668.6)" stroke="#454547" stroke-width="0.1" stroke-linejoin="round">OpEx as a percentage of gov revenue (%)</text>
<text x="542.6" y="869.3" font-size="6.6" font-weight="bold" font-family='"Liberation Serif", serif' fill="#1a1a1a" textLength="186.6" lengthAdjust="spacingAndGlyphs">SOURCE: MOF, CEIC, MORGAN STANLEY RESEARCH</text>
<text x="295.3" y="904.6" font-size="18" font-weight="bold" fill="#5f6063" textLength="293.2" lengthAdjust="spacingAndGlyphs">Singapore&#x27;s fiscal balance (% of GDP)</text>
<text x="322" y="935" font-size="10.3" text-anchor="end" textLength="23.48" lengthAdjust="spacingAndGlyphs" stroke="#454547" stroke-width="0.1" stroke-linejoin="round">3.0%</text>
<text x="322" y="955.65" font-size="10.3" text-anchor="end" textLength="23.48" lengthAdjust="spacingAndGlyphs" stroke="#454547" stroke-width="0.1" stroke-linejoin="round">2.5%</text>
<text x="322" y="976.3" font-size="10.3" text-anchor="end" textLength="23.48" lengthAdjust="spacingAndGlyphs" stroke="#454547" stroke-width="0.1" stroke-linejoin="round">2.0%</text>
<text x="322" y="996.95" font-size="10.3" text-anchor="end" textLength="23.48" lengthAdjust="spacingAndGlyphs" stroke="#454547" stroke-width="0.1" stroke-linejoin="round">1.5%</text>
<text x="322" y="1017.6" font-size="10.3" text-anchor="end" textLength="23.48" lengthAdjust="spacingAndGlyphs" stroke="#454547" stroke-width="0.1" stroke-linejoin="round">1.0%</text>
<text x="322" y="1038.25" font-size="10.3" text-anchor="end" textLength="23.48" lengthAdjust="spacingAndGlyphs" stroke="#454547" stroke-width="0.1" stroke-linejoin="round">0.5%</text>
<text x="322" y="1058.9" font-size="10.3" text-anchor="end" textLength="23.48" lengthAdjust="spacingAndGlyphs" stroke="#454547" stroke-width="0.1" stroke-linejoin="round">0.0%</text>
<text x="322" y="1079.55" font-size="10.3" text-anchor="end" textLength="29.21" lengthAdjust="spacingAndGlyphs" stroke="#454547" stroke-width="0.1" stroke-linejoin="round">–0.5%</text>
<text x="322" y="1100.2" font-size="10.3" text-anchor="end" textLength="29.21" lengthAdjust="spacingAndGlyphs" stroke="#454547" stroke-width="0.1" stroke-linejoin="round">–1.0%</text>
<text x="322" y="1120.85" font-size="10.3" text-anchor="end" textLength="29.21" lengthAdjust="spacingAndGlyphs" stroke="#454547" stroke-width="0.1" stroke-linejoin="round">–1.5%</text>
<line x1="335" y1="1055.4" x2="720" y2="1055.4" stroke="#6d6e71" stroke-width="0.9"/>
<polyline fill="none" stroke="#7a2e28" stroke-width="2.6" stroke-linejoin="miter" stroke-linecap="butt" points="348.6,1026.6 376.6,1056 404,940 431.4,1051 458.6,1066.6 486.6,1041 514,1007 541.8,988.6 569.4,1000.8 597,1050 624.2,1095 651,999.3 678.6,967.5 706.2,1059.5"/>
<text x="352.6" y="1153" font-size="10.8" fill="#59595b" textLength="27" lengthAdjust="spacingAndGlyphs" transform="rotate(-90 352.6 1153)">FY 05</text>
<text x="380.6" y="1153" font-size="10.8" fill="#59595b" textLength="27" lengthAdjust="spacingAndGlyphs" transform="rotate(-90 380.6 1153)">FY 06</text>
<text x="408" y="1153" font-size="10.8" fill="#59595b" textLength="27" lengthAdjust="spacingAndGlyphs" transform="rotate(-90 408 1153)">FY 07</text>
<text x="435.4" y="1153" font-size="10.8" fill="#59595b" textLength="27" lengthAdjust="spacingAndGlyphs" transform="rotate(-90 435.4 1153)">FY 08</text>
<text x="462.6" y="1153" font-size="10.8" fill="#59595b" textLength="27" lengthAdjust="spacingAndGlyphs" transform="rotate(-90 462.6 1153)">FY09</text>
<text x="490.6" y="1153" font-size="10.8" fill="#59595b" textLength="27" lengthAdjust="spacingAndGlyphs" transform="rotate(-90 490.6 1153)">FY10</text>
<text x="518" y="1153" font-size="10.8" fill="#59595b" textLength="27" lengthAdjust="spacingAndGlyphs" transform="rotate(-90 518 1153)">FY11</text>
<text x="545.8" y="1153" font-size="10.8" fill="#59595b" textLength="27" lengthAdjust="spacingAndGlyphs" transform="rotate(-90 545.8 1153)">FY12</text>
<text x="573.4" y="1153" font-size="10.8" fill="#59595b" textLength="27" lengthAdjust="spacingAndGlyphs" transform="rotate(-90 573.4 1153)">FY13</text>
<text x="601" y="1153" font-size="10.8" fill="#59595b" textLength="27" lengthAdjust="spacingAndGlyphs" transform="rotate(-90 601 1153)">FY14</text>
<text x="628.2" y="1153" font-size="10.8" fill="#59595b" textLength="27" lengthAdjust="spacingAndGlyphs" transform="rotate(-90 628.2 1153)">FY15</text>
<text x="655" y="1153" font-size="10.8" fill="#59595b" textLength="27" lengthAdjust="spacingAndGlyphs" transform="rotate(-90 655 1153)">FY16</text>
<text x="682.6" y="1153" font-size="10.8" fill="#59595b" textLength="27" lengthAdjust="spacingAndGlyphs" transform="rotate(-90 682.6 1153)">FY17</text>
<text x="710.2" y="1162" font-size="10.8" fill="#59595b" textLength="36" lengthAdjust="spacingAndGlyphs" transform="rotate(-90 710.2 1162)">FY18E</text>
<text x="298.6" y="1168.6" font-size="9.8" textLength="126.4" lengthAdjust="spacingAndGlyphs" stroke="#454547" stroke-width="0.1" stroke-linejoin="round">Note: E refers to MOF&#x27;s forecast</text>
<line x1="458" y1="938.6" x2="483.6" y2="938.6" stroke="#7a2e28" stroke-width="2.6"/>
<text x="491" y="942" font-size="10.3" textLength="158" lengthAdjust="spacingAndGlyphs" stroke="#454547" stroke-width="0.3" stroke-linejoin="round">Overall budget balance (% of GDP)</text>
<text x="991" y="869.2" font-size="6.6" font-weight="bold" font-family='"Liberation Serif", serif' fill="#1a1a1a" textLength="187.9" lengthAdjust="spacingAndGlyphs">SOURCE: DEPARTMENT OF STATISTICS SINGAPORE</text>
<text x="757.2" y="903.7" font-size="18" font-weight="bold" fill="#5f6063" textLength="356.5" lengthAdjust="spacingAndGlyphs">Singapore supplements its annual budget with</text>
<text x="757.2" y="922.8" font-size="18" font-weight="bold" fill="#5f6063" textLength="376.4" lengthAdjust="spacingAndGlyphs">investment returns from its reserves since 2000</text>
<rect x="789" y="1113" width="7.3" height="21" fill="#929497"/>
<rect x="808.09" y="1121.6" width="7.3" height="12.4" fill="#929497"/>
<rect x="827.18" y="1100" width="7.3" height="34" fill="#929497"/>
<rect x="846.27" y="1116.6" width="7.3" height="17.4" fill="#929497"/>
<rect x="865.36" y="1106" width="7.3" height="28" fill="#929497"/>
<rect x="884.45" y="1108.6" width="7.3" height="25.4" fill="#929497"/>
<rect x="903.54" y="1114.6" width="7.3" height="19.4" fill="#929497"/>
<rect x="922.63" y="1112" width="7.3" height="22" fill="#929497"/>
<rect x="941.72" y="1093.6" width="7.3" height="40.4" fill="#929497"/>
<rect x="960.81" y="1068.4" width="7.3" height="65.6" fill="#929497"/>
<rect x="979.9" y="1065" width="7.3" height="69" fill="#929497"/>
<rect x="998.99" y="1059.6" width="7.3" height="74.4" fill="#929497"/>
<rect x="1018.08" y="1060" width="7.3" height="74" fill="#929497"/>
<rect x="1037.17" y="1056" width="7.3" height="78" fill="#929497"/>
<rect x="1056.26" y="1052" width="7.3" height="82" fill="#929497"/>
<rect x="1075.35" y="1050" width="7.3" height="84" fill="#929497"/>
<rect x="1094.44" y="996.6" width="7.3" height="137.4" fill="#929497"/>
<rect x="1113.53" y="998" width="7.3" height="136" fill="#929497"/>
<rect x="1132.62" y="984.4" width="7.3" height="149.6" fill="#929497"/>
<text x="780" y="965.6" font-size="10.3" text-anchor="end" textLength="10.66" lengthAdjust="spacingAndGlyphs" stroke="#454547" stroke-width="0.1" stroke-linejoin="round">18</text>
<text x="780" y="984.55" font-size="10.3" text-anchor="end" textLength="10.66" lengthAdjust="spacingAndGlyphs" stroke="#454547" stroke-width="0.1" stroke-linejoin="round">16</text>
<text x="780" y="1003.5" font-size="10.3" text-anchor="end" textLength="10.66" lengthAdjust="spacingAndGlyphs" stroke="#454547" stroke-width="0.1" stroke-linejoin="round">14</text>
<text x="780" y="1022.45" font-size="10.3" text-anchor="end" textLength="10.66" lengthAdjust="spacingAndGlyphs" stroke="#454547" stroke-width="0.1" stroke-linejoin="round">12</text>
<text x="780" y="1041.4" font-size="10.3" text-anchor="end" textLength="10.66" lengthAdjust="spacingAndGlyphs" stroke="#454547" stroke-width="0.1" stroke-linejoin="round">10</text>
<text x="780" y="1060.35" font-size="10.3" text-anchor="end" textLength="5.33" lengthAdjust="spacingAndGlyphs" stroke="#454547" stroke-width="0.1" stroke-linejoin="round">8</text>
<text x="780" y="1079.3" font-size="10.3" text-anchor="end" textLength="5.33" lengthAdjust="spacingAndGlyphs" stroke="#454547" stroke-width="0.1" stroke-linejoin="round">6</text>
<text x="780" y="1098.25" font-size="10.3" text-anchor="end" textLength="5.33" lengthAdjust="spacingAndGlyphs" stroke="#454547" stroke-width="0.1" stroke-linejoin="round">4</text>
<text x="780" y="1117.2" font-size="10.3" text-anchor="end" textLength="5.33" lengthAdjust="spacingAndGlyphs" stroke="#454547" stroke-width="0.1" stroke-linejoin="round">2</text>
<text x="780" y="1135" font-size="10.3" text-anchor="end" textLength="5.33" lengthAdjust="spacingAndGlyphs" stroke="#454547" stroke-width="0.1" stroke-linejoin="round">0</text>
<text x="1148" y="965" font-size="10.3" textLength="5.04" lengthAdjust="spacingAndGlyphs" stroke="#454547" stroke-width="0.1" stroke-linejoin="round">4</text>
<text x="1148" y="986.3" font-size="10.3" textLength="12.6" lengthAdjust="spacingAndGlyphs" stroke="#454547" stroke-width="0.1" stroke-linejoin="round">3.5</text>
<text x="1148" y="1007.6" font-size="10.3" textLength="5.04" lengthAdjust="spacingAndGlyphs" stroke="#454547" stroke-width="0.1" stroke-linejoin="round">3</text>
<text x="1148" y="1028.9" font-size="10.3" textLength="12.6" lengthAdjust="spacingAndGlyphs" stroke="#454547" stroke-width="0.1" stroke-linejoin="round">2.5</text>
<text x="1148" y="1050.2" font-size="10.3" textLength="5.04" lengthAdjust="spacingAndGlyphs" stroke="#454547" stroke-width="0.1" stroke-linejoin="round">2</text>
<text x="1148" y="1071.5" font-size="10.3" textLength="12.6" lengthAdjust="spacingAndGlyphs" stroke="#454547" stroke-width="0.1" stroke-linejoin="round">1.5</text>
<text x="1148" y="1092.8" font-size="10.3" textLength="5.04" lengthAdjust="spacingAndGlyphs" stroke="#454547" stroke-width="0.1" stroke-linejoin="round">1</text>
<text x="1148" y="1114.1" font-size="10.3" textLength="12.6" lengthAdjust="spacingAndGlyphs" stroke="#454547" stroke-width="0.1" stroke-linejoin="round">0.5</text>
<text x="1148" y="1135.4" font-size="10.3" textLength="5.04" lengthAdjust="spacingAndGlyphs" stroke="#454547" stroke-width="0.1" stroke-linejoin="round">0</text>
<text x="785.6" y="1147.4" font-size="10.3" textLength="13" lengthAdjust="spacingAndGlyphs" stroke="#454547" stroke-width="0.1" stroke-linejoin="round">&#x27;00</text>
<text x="806" y="1147.4" font-size="10.3" textLength="11.6" lengthAdjust="spacingAndGlyphs" stroke="#454547" stroke-width="0.1" stroke-linejoin="round">&#x27;01</text>
<text x="825" y="1147.4" font-size="10.3" textLength="13.4" lengthAdjust="spacingAndGlyphs" stroke="#454547" stroke-width="0.1" stroke-linejoin="round">&#x27;02</text>
<text x="844" y="1147.4" font-size="10.3" textLength="13.4" lengthAdjust="spacingAndGlyphs" stroke="#454547" stroke-width="0.1" stroke-linejoin="round">&#x27;03</text>
<text x="862.6" y="1147.4" font-size="10.3" textLength="14" lengthAdjust="spacingAndGlyphs" stroke="#454547" stroke-width="0.1" stroke-linejoin="round">&#x27;04</text>
<text x="882" y="1147.4" font-size="10.3" textLength="13.4" lengthAdjust="spacingAndGlyphs" stroke="#454547" stroke-width="0.1" stroke-linejoin="round">&#x27;05</text>
<text x="901" y="1147.4" font-size="10.3" textLength="13.4" lengthAdjust="spacingAndGlyphs" stroke="#454547" stroke-width="0.1" stroke-linejoin="round">&#x27;06</text>
<text x="920.6" y="1147.4" font-size="10.3" textLength="12.4" lengthAdjust="spacingAndGlyphs" stroke="#454547" stroke-width="0.1" stroke-linejoin="round">&#x27;07</text>
<text x="940" y="1147.4" font-size="10.3" textLength="13.4" lengthAdjust="spacingAndGlyphs" stroke="#454547" stroke-width="0.1" stroke-linejoin="round">&#x27;08</text>
<text x="959" y="1147.4" font-size="10.3" textLength="13.4" lengthAdjust="spacingAndGlyphs" stroke="#454547" stroke-width="0.1" stroke-linejoin="round">&#x27;09</text>
<text x="978.4" y="1147.4" font-size="10.3" textLength="10.2" lengthAdjust="spacingAndGlyphs" stroke="#454547" stroke-width="0.1" stroke-linejoin="round">&#x27;10</text>
<text x="997.6" y="1147.4" font-size="10.3" textLength="9" lengthAdjust="spacingAndGlyphs" stroke="#454547" stroke-width="0.1" stroke-linejoin="round">&#x27;11</text>
<text x="1016" y="1147.4" font-size="10.3" textLength="10.6" lengthAdjust="spacingAndGlyphs" stroke="#454547" stroke-width="0.1" stroke-linejoin="round">&#x27;12</text>
<text x="1035.4" y="1147.4" font-size="10.3" textLength="11" lengthAdjust="spacingAndGlyphs" stroke="#454547" stroke-width="0.1" stroke-linejoin="round">&#x27;13</text>
<text x="1054.4" y="1147.4" font-size="10.3" textLength="11" lengthAdjust="spacingAndGlyphs" stroke="#454547" stroke-width="0.1" stroke-linejoin="round">&#x27;14</text>
<text x="1073.4" y="1147.4" font-size="10.3" textLength="11" lengthAdjust="spacingAndGlyphs" stroke="#454547" stroke-width="0.1" stroke-linejoin="round">&#x27;15</text>
<text x="1092" y="1147.4" font-size="10.3" textLength="11" lengthAdjust="spacingAndGlyphs" stroke="#454547" stroke-width="0.1" stroke-linejoin="round">&#x27;16</text>
<text x="1111" y="1147.4" font-size="10.3" textLength="13.4" lengthAdjust="spacingAndGlyphs" stroke="#454547" stroke-width="0.1" stroke-linejoin="round">&#x27;17r</text>
<text x="1129" y="1147.4" font-size="10.3" textLength="17" lengthAdjust="spacingAndGlyphs" stroke="#454547" stroke-width="0.1" stroke-linejoin="round">&#x27;18e</text>
<polyline fill="none" stroke="#ed1c24" stroke-width="1.6" stroke-linejoin="miter" stroke-linecap="butt" points="792.6,1075 811.6,1096 830.6,1040.6 849.6,1088 869,1071 888,1079 907,1096.4 926,1096.4 945.3,1066 964.4,1032.4 983.6,1040.6 1002,1036.6 1021.6,1045 1040.6,1040.6 1059.6,1040.6 1079,1044.6 1098,989.4 1117.4,998.4 1136,989"/>
<line x1="806" y1="964" x2="819.6" y2="964" stroke="#ed1c24" stroke-width="1.6"/>
<text x="826.4" y="967" font-size="10.3" textLength="96.6" lengthAdjust="spacingAndGlyphs" stroke="#454547" stroke-width="0.3" stroke-linejoin="round">NIRC as % of GDP (%)</text>
<rect x="806" y="971.4" width="13.6" height="13" fill="#929497"/>
<text x="826.4" y="982.6" font-size="10.3" textLength="200.6" lengthAdjust="spacingAndGlyphs" stroke="#454547" stroke-width="0.3" stroke-linejoin="round">Net Investment Return Contribution (S$ bil)</text>
<text x="763.2" y="1135" font-size="9.6" textLength="174" lengthAdjust="spacingAndGlyphs" transform="rotate(-90 763.2 1135)" stroke="#454547" stroke-width="0.1" stroke-linejoin="round">Net Investment Return Contribution (S$ bil)</text>
<text x="1176" y="1111.6" font-size="9.6" textLength="126" lengthAdjust="spacingAndGlyphs" transform="rotate(-90 1176 1111.6)" stroke="#454547" stroke-width="0.1" stroke-linejoin="round">NIRC as a percentage of GDP (%)</text>
<line x1="1132" y1="957" x2="1132" y2="985" stroke="#f05a2a" stroke-width="1.5"/>
<rect x="1099.4" y="957" width="33.2" height="15.4" fill="#f05a2a"/>
<text x="1104" y="969.04" font-size="12.4" font-weight="bold" fill="#fff" textLength="22.4" lengthAdjust="spacingAndGlyphs">15.85</text>
<text x="601.2" y="1197.2" font-size="6.6" font-weight="bold" font-family='"Liberation Serif", serif' fill="#1a1a1a" textLength="128" lengthAdjust="spacingAndGlyphs">SOURCE: CEIC, MAYBANK KIM ENG</text>
<text x="296" y="1232.5" font-size="18" font-weight="bold" fill="#5f6063" textLength="359.6" lengthAdjust="spacingAndGlyphs">Singapore&#x27;s  social development expenditure</text>
<text x="296" y="1252.8" font-size="18" font-weight="bold" fill="#5f6063" textLength="101" lengthAdjust="spacingAndGlyphs">rising rapidly</text>
<rect x="334" y="1422" width="11.6" height="15" fill="#a1694a"/>
<rect x="334" y="1437" width="11.6" height="45" fill="#929497"/>
<rect x="361.4" y="1418" width="11.6" height="10" fill="#a1694a"/>
<rect x="361.4" y="1428" width="11.6" height="54" fill="#929497"/>
<rect x="390" y="1409" width="11.6" height="15" fill="#a1694a"/>
<rect x="390" y="1424" width="11.6" height="58" fill="#929497"/>
<rect x="418.4" y="1402.4" width="11.6" height="13.6" fill="#a1694a"/>
<rect x="418.4" y="1416" width="11.6" height="66" fill="#929497"/>
<rect x="446" y="1391.4" width="12" height="16.6" fill="#a1694a"/>
<rect x="446" y="1408" width="12" height="74" fill="#929497"/>
<rect x="474" y="1380" width="11.6" height="18.4" fill="#a1694a"/>
<rect x="474" y="1398.4" width="11.6" height="83.6" fill="#929497"/>
<rect x="503" y="1371.4" width="11.4" height="18.2" fill="#a1694a"/>
<rect x="503" y="1389.6" width="11.4" height="92.4" fill="#929497"/>
<rect x="530.4" y="1371.4" width="11.2" height="15.6" fill="#a1694a"/>
<rect x="530.4" y="1387" width="11.2" height="95" fill="#929497"/>
<rect x="558.4" y="1358.4" width="11.2" height="17" fill="#a1694a"/>
<rect x="558.4" y="1375.4" width="11.2" height="106.6" fill="#929497"/>
<rect x="585.6" y="1342.6" width="11.4" height="24" fill="#a1694a"/>
<rect x="585.6" y="1366.6" width="11.4" height="115.4" fill="#929497"/>
<rect x="614.4" y="1321.6" width="11.2" height="26.4" fill="#a1694a"/>
<rect x="614.4" y="1348" width="11.2" height="134" fill="#929497"/>
<rect x="642.4" y="1308.6" width="11.2" height="23.4" fill="#a1694a"/>
<rect x="642.4" y="1332" width="11.2" height="150" fill="#929497"/>
<rect x="670" y="1288.6" width="11.4" height="31.4" fill="#a1694a"/>
<rect x="670" y="1320" width="11.4" height="162" fill="#929497"/>
<text x="317" y="1280.6" font-size="11.3" text-anchor="end" textLength="12.57" lengthAdjust="spacingAndGlyphs" stroke="#454547" stroke-width="0.1" stroke-linejoin="round">40</text>
<text x="317" y="1306.15" font-size="11.3" text-anchor="end" textLength="12.57" lengthAdjust="spacingAndGlyphs" stroke="#454547" stroke-width="0.1" stroke-linejoin="round">35</text>
<text x="317" y="1331.7" font-size="11.3" text-anchor="end" textLength="12.57" lengthAdjust="spacingAndGlyphs" stroke="#454547" stroke-width="0.1" stroke-linejoin="round">30</text>
<text x="317" y="1357.25" font-size="11.3" text-anchor="end" textLength="12.57" lengthAdjust="spacingAndGlyphs" stroke="#454547" stroke-width="0.1" stroke-linejoin="round">25</text>
<text x="317" y="1382.8" font-size="11.3" text-anchor="end" textLength="12.57" lengthAdjust="spacingAndGlyphs" stroke="#454547" stroke-width="0.1" stroke-linejoin="round">20</text>
<text x="317" y="1408.35" font-size="11.3" text-anchor="end" textLength="12.57" lengthAdjust="spacingAndGlyphs" stroke="#454547" stroke-width="0.1" stroke-linejoin="round">15</text>
<text x="317" y="1433.9" font-size="11.3" text-anchor="end" textLength="12.57" lengthAdjust="spacingAndGlyphs" stroke="#454547" stroke-width="0.1" stroke-linejoin="round">10</text>
<text x="317" y="1459.45" font-size="11.3" text-anchor="end" textLength="6.28" lengthAdjust="spacingAndGlyphs" stroke="#454547" stroke-width="0.1" stroke-linejoin="round">5</text>
<text x="317" y="1485" font-size="11.3" text-anchor="end" textLength="6.28" lengthAdjust="spacingAndGlyphs" stroke="#454547" stroke-width="0.1" stroke-linejoin="round">0</text>
<text x="697" y="1280.6" font-size="11.3" textLength="11.31" lengthAdjust="spacingAndGlyphs" stroke="#454547" stroke-width="0.1" stroke-linejoin="round">10</text>
<text x="697" y="1315.23" font-size="11.3" textLength="5.66" lengthAdjust="spacingAndGlyphs" stroke="#454547" stroke-width="0.1" stroke-linejoin="round">9</text>
<text x="697" y="1349.86" font-size="11.3" textLength="5.66" lengthAdjust="spacingAndGlyphs" stroke="#454547" stroke-width="0.1" stroke-linejoin="round">8</text>
<text x="697" y="1384.49" font-size="11.3" textLength="5.66" lengthAdjust="spacingAndGlyphs" stroke="#454547" stroke-width="0.1" stroke-linejoin="round">7</text>
<text x="697" y="1419.12" font-size="11.3" textLength="5.66" lengthAdjust="spacingAndGlyphs" stroke="#454547" stroke-width="0.1" stroke-linejoin="round">6</text>
<text x="697" y="1453.75" font-size="11.3" textLength="5.66" lengthAdjust="spacingAndGlyphs" stroke="#454547" stroke-width="0.1" stroke-linejoin="round">5</text>
<text x="697" y="1488.38" font-size="11.3" textLength="5.66" lengthAdjust="spacingAndGlyphs" stroke="#454547" stroke-width="0.1" stroke-linejoin="round">4</text>
<text x="343.6" y="1510" font-size="11.4" textLength="23" lengthAdjust="spacingAndGlyphs" transform="rotate(-90 343.6 1510)" stroke="#454547" stroke-width="0.1" stroke-linejoin="round">FY05</text>
<text x="370.2" y="1510" font-size="11.4" textLength="23" lengthAdjust="spacingAndGlyphs" transform="rotate(-90 370.2 1510)" stroke="#454547" stroke-width="0.1" stroke-linejoin="round">FY06</text>
<text x="399.2" y="1510" font-size="11.4" textLength="23" lengthAdjust="spacingAndGlyphs" transform="rotate(-90 399.2 1510)" stroke="#454547" stroke-width="0.1" stroke-linejoin="round">FY07</text>
<text x="428.2" y="1510" font-size="11.4" textLength="23" lengthAdjust="spacingAndGlyphs" transform="rotate(-90 428.2 1510)" stroke="#454547" stroke-width="0.1" stroke-linejoin="round">FY08</text>
<text x="455.2" y="1510" font-size="11.4" textLength="23" lengthAdjust="spacingAndGlyphs" transform="rotate(-90 455.2 1510)" stroke="#454547" stroke-width="0.1" stroke-linejoin="round">FY09</text>
<text x="483.2" y="1510" font-size="11.4" textLength="23" lengthAdjust="spacingAndGlyphs" transform="rotate(-90 483.2 1510)" stroke="#454547" stroke-width="0.1" stroke-linejoin="round">FY10</text>
<text x="512.6" y="1506.4" font-size="11.4" textLength="19.4" lengthAdjust="spacingAndGlyphs" transform="rotate(-90 512.6 1506.4)" stroke="#454547" stroke-width="0.1" stroke-linejoin="round">FY11</text>
<text x="538.6" y="1508.4" font-size="11.4" textLength="21.4" lengthAdjust="spacingAndGlyphs" transform="rotate(-90 538.6 1508.4)" stroke="#454547" stroke-width="0.1" stroke-linejoin="round">FY12</text>
<text x="567.8" y="1508.4" font-size="11.4" textLength="21.4" lengthAdjust="spacingAndGlyphs" transform="rotate(-90 567.8 1508.4)" stroke="#454547" stroke-width="0.1" stroke-linejoin="round">FY13</text>
<text x="596.6" y="1508.4" font-size="11.4" textLength="21.4" lengthAdjust="spacingAndGlyphs" transform="rotate(-90 596.6 1508.4)" stroke="#454547" stroke-width="0.1" stroke-linejoin="round">FY14</text>
<text x="624.6" y="1508.4" font-size="11.4" textLength="21.4" lengthAdjust="spacingAndGlyphs" transform="rotate(-90 624.6 1508.4)" stroke="#454547" stroke-width="0.1" stroke-linejoin="round">FY15</text>
<text x="652.6" y="1508.4" font-size="11.4" textLength="21.4" lengthAdjust="spacingAndGlyphs" transform="rotate(-90 652.6 1508.4)" stroke="#454547" stroke-width="0.1" stroke-linejoin="round">FY16</text>
<text x="680.6" y="1508.4" font-size="11.4" textLength="21.4" lengthAdjust="spacingAndGlyphs" transform="rotate(-90 680.6 1508.4)" stroke="#454547" stroke-width="0.1" stroke-linejoin="round">FY17</text>
<polyline fill="none" stroke="#ed1c24" stroke-width="1.8" stroke-linejoin="miter" stroke-linecap="butt" points="340,1435.6 367.4,1440 395,1442 424.4,1415.6 452,1407.6 480,1411.4 507.5,1407.8 536,1414.4 564,1402.6 591.4,1385 620,1358 648,1339 676.6,1314"/>
<rect x="351" y="1275.4" width="11.4" height="11" fill="#a1694a"/>
<text x="369" y="1284.4" font-size="10.3" textLength="216.6" lengthAdjust="spacingAndGlyphs" stroke="#454547" stroke-width="0.3" stroke-linejoin="round">Social development: development expenditure</text>
<rect x="351" y="1292" width="11.4" height="11.4" fill="#929497"/>
<text x="369" y="1300.4" font-size="10.3" textLength="199.6" lengthAdjust="spacingAndGlyphs" stroke="#454547" stroke-width="0.3" stroke-linejoin="round">Social development: operating expenditure</text>
<line x1="349" y1="1314" x2="363.6" y2="1314" stroke="#ed1c24" stroke-width="3"/>
<text x="369" y="1315.6" font-size="10.3" textLength="208.6" lengthAdjust="spacingAndGlyphs" stroke="#454547" stroke-width="0.3" stroke-linejoin="round">Total social development expenditure (RHS)</text>
<text x="300" y="1379" font-size="9.3" textLength="35" lengthAdjust="spacingAndGlyphs" transform="rotate(-90 300 1379)" stroke="#454547" stroke-width="0.1" stroke-linejoin="round">SGD (bn)</text>
<text x="718.4" y="1382" font-size="9.6" textLength="35.6" lengthAdjust="spacingAndGlyphs" transform="rotate(-90 718.4 1382)" stroke="#454547" stroke-width="0.1" stroke-linejoin="round">% of GDP</text>
<text x="300.6" y="1532.6" font-size="9.8" textLength="124.4" lengthAdjust="spacingAndGlyphs" stroke="#454547" stroke-width="0.1" stroke-linejoin="round">Source: CEIC, Maybank Kim Eng</text>
<text x="991" y="1197.2" font-size="6.6" font-weight="bold" font-family='"Liberation Serif", serif' fill="#1a1a1a" textLength="187.9" lengthAdjust="spacingAndGlyphs">SOURCE: DEPARTMENT OF STATISTICS SINGAPORE</text>
<text x="756.5" y="1232.5" font-size="18" font-weight="bold" fill="#5f6063" textLength="394.4" lengthAdjust="spacingAndGlyphs">Singapore is required to run a balanced budget over</text>
<text x="756.5" y="1252" font-size="18" font-weight="bold" fill="#5f6063" textLength="414.7" lengthAdjust="spacingAndGlyphs">every term of government (4 to 5 years) and does not</text>
<text x="756.5" y="1271.6" font-size="18" font-weight="bold" fill="#5f6063" textLength="416.6" lengthAdjust="spacingAndGlyphs">borrow to fund government budget as its Constitution</text>
<text x="756.5" y="1291.2" font-size="18" font-weight="bold" fill="#5f6063" textLength="320" lengthAdjust="spacingAndGlyphs">and Government Securities Act prevent it</text>
<rect x="807.2" y="1421" width="4.4" height="48.4" fill="#bdbfc1"/>
<rect x="803" y="1414.6" width="4.5" height="54.8" fill="#ed1c24"/>
<rect x="811.4" y="1463" width="4.8" height="6.4" fill="#92278f"/>
<rect x="827.2" y="1422" width="4.4" height="47.4" fill="#bdbfc1"/>
<rect x="823" y="1419.6" width="4.5" height="49.8" fill="#ed1c24"/>
<rect x="831.4" y="1467" width="4.8" height="2.4" fill="#92278f"/>
<rect x="846.8" y="1422" width="4.4" height="47.4" fill="#bdbfc1"/>
<rect x="842.6" y="1425" width="4.5" height="44.4" fill="#ed1c24"/>
<rect x="851" y="1469.4" width="4.8" height="2.6" fill="#92278f"/>
<rect x="866.6" y="1419.6" width="4.4" height="49.8" fill="#bdbfc1"/>
<rect x="862.4" y="1425" width="4.5" height="44.4" fill="#ed1c24"/>
<rect x="870.8" y="1469.4" width="4.8" height="5.6" fill="#92278f"/>
<rect x="886.2" y="1419" width="4.4" height="50.4" fill="#bdbfc1"/>
<rect x="882" y="1421.4" width="4.5" height="48" fill="#ed1c24"/>
<rect x="890.4" y="1469.4" width="4.8" height="2.6" fill="#92278f"/>
<rect x="906.2" y="1419.4" width="4.4" height="50" fill="#bdbfc1"/>
<rect x="902" y="1420" width="4.5" height="49.4" fill="#ed1c24"/>
<rect x="910.4" y="1469.4" width="4.8" height="1" fill="#92278f"/>
<rect x="926.2" y="1417.4" width="4.4" height="52" fill="#bdbfc1"/>
<rect x="922" y="1415" width="4.5" height="54.4" fill="#ed1c24"/>
<rect x="930.4" y="1467" width="4.8" height="2.4" fill="#92278f"/>
<rect x="945.8" y="1412" width="4.4" height="57.4" fill="#bdbfc1"/>
<rect x="941.6" y="1399" width="4.5" height="70.4" fill="#ed1c24"/>
<rect x="950" y="1456" width="4.8" height="13.4" fill="#92278f"/>
<rect x="965.8" y="1403.4" width="4.4" height="66" fill="#bdbfc1"/>
<rect x="961.6" y="1398" width="4.5" height="71.4" fill="#ed1c24"/>
<rect x="970" y="1464" width="4.8" height="5.4" fill="#92278f"/>
<rect x="985.6" y="1396.4" width="4.4" height="73" fill="#bdbfc1"/>
<rect x="981.4" y="1400" width="4.5" height="69.4" fill="#ed1c24"/>
<rect x="989.8" y="1469.4" width="4.8" height="4.2" fill="#92278f"/>
<rect x="1005.6" y="1390.6" width="4.4" height="78.8" fill="#bdbfc1"/>
<rect x="1001.4" y="1389" width="4.5" height="80.4" fill="#ed1c24"/>
<rect x="1009.8" y="1468.6" width="4.8" height="0.8" fill="#92278f"/>
<rect x="1025.6" y="1388" width="4.4" height="81.4" fill="#bdbfc1"/>
<rect x="1021.4" y="1380" width="4.5" height="89.4" fill="#ed1c24"/>
<rect x="1029.8" y="1461.4" width="4.8" height="8" fill="#92278f"/>
<rect x="1045.2" y="1384" width="4.4" height="85.4" fill="#bdbfc1"/>
<rect x="1041" y="1372" width="4.5" height="97.4" fill="#ed1c24"/>
<rect x="1049.4" y="1457.4" width="4.8" height="12" fill="#92278f"/>
<rect x="1065.2" y="1379" width="4.4" height="90.4" fill="#bdbfc1"/>
<rect x="1061" y="1370" width="4.5" height="99.4" fill="#ed1c24"/>
<rect x="1069.4" y="1460" width="4.8" height="9.4" fill="#92278f"/>
<rect x="1085.2" y="1370.6" width="4.4" height="98.8" fill="#bdbfc1"/>
<rect x="1081" y="1363" width="4.5" height="106.4" fill="#ed1c24"/>
<rect x="1089.4" y="1462" width="4.8" height="7.4" fill="#92278f"/>
<rect x="1104.8" y="1352" width="4.4" height="117.4" fill="#bdbfc1"/>
<rect x="1100.6" y="1356.4" width="4.5" height="113" fill="#ed1c24"/>
<rect x="1109" y="1469.4" width="4.8" height="4.6" fill="#92278f"/>
<rect x="1124.8" y="1345.6" width="4.4" height="123.8" fill="#bdbfc1"/>
<rect x="1120.6" y="1349" width="4.5" height="120.4" fill="#ed1c24"/>
<rect x="1129" y="1469.4" width="4.8" height="3.6" fill="#92278f"/>
<rect x="1144.6" y="1340.6" width="4.4" height="128.8" fill="#bdbfc1"/>
<rect x="1140.4" y="1338" width="4.5" height="131.4" fill="#ed1c24"/>
<rect x="1148.8" y="1467" width="4.8" height="2.4" fill="#92278f"/>
<rect x="1164.6" y="1330" width="4.4" height="139.4" fill="#bdbfc1"/>
<rect x="1160.4" y="1342.6" width="4.5" height="126.8" fill="#ed1c24"/>
<rect x="1168.8" y="1469.4" width="4.8" height="12.6" fill="#92278f"/>
<line x1="800" y1="1469.4" x2="1176.4" y2="1469.4" stroke="#6d6e71" stroke-width="0.9"/>
<text x="763" y="1313.6" font-size="11.2" textLength="29.4" lengthAdjust="spacingAndGlyphs" stroke="#454547" stroke-width="0.1" stroke-linejoin="round">90000</text>
<text x="763" y="1331.15" font-size="11.2" textLength="29.4" lengthAdjust="spacingAndGlyphs" stroke="#454547" stroke-width="0.1" stroke-linejoin="round">80000</text>
<text x="763" y="1348.7" font-size="11.2" textLength="29.4" lengthAdjust="spacingAndGlyphs" stroke="#454547" stroke-width="0.1" stroke-linejoin="round">70000</text>
<text x="763" y="1366.25" font-size="11.2" textLength="29.4" lengthAdjust="spacingAndGlyphs" stroke="#454547" stroke-width="0.1" stroke-linejoin="round">60000</text>
<text x="763" y="1383.8" font-size="11.2" textLength="29.4" lengthAdjust="spacingAndGlyphs" stroke="#454547" stroke-width="0.1" stroke-linejoin="round">50000</text>
<text x="763" y="1401.35" font-size="11.2" textLength="29.4" lengthAdjust="spacingAndGlyphs" stroke="#454547" stroke-width="0.1" stroke-linejoin="round">40000</text>
<text x="763" y="1418.9" font-size="11.2" textLength="29.4" lengthAdjust="spacingAndGlyphs" stroke="#454547" stroke-width="0.1" stroke-linejoin="round">30000</text>
<text x="763" y="1436.45" font-size="11.2" textLength="29.4" lengthAdjust="spacingAndGlyphs" stroke="#454547" stroke-width="0.1" stroke-linejoin="round">20000</text>
<text x="763" y="1454" font-size="11.2" textLength="29.4" lengthAdjust="spacingAndGlyphs" stroke="#454547" stroke-width="0.1" stroke-linejoin="round">10000</text>
<text x="786.4" y="1470.6" font-size="11.2" textLength="6" lengthAdjust="spacingAndGlyphs" stroke="#454547" stroke-width="0.1" stroke-linejoin="round">0</text>
<text x="758" y="1489" font-size="11.2" textLength="34.4" lengthAdjust="spacingAndGlyphs" stroke="#454547" stroke-width="0.1" stroke-linejoin="round">–10000</text>
<text x="811" y="1513" font-size="10.8" textLength="24" lengthAdjust="spacingAndGlyphs" transform="rotate(-90 811 1513)" stroke="#454547" stroke-width="0.1" stroke-linejoin="round">2000</text>
<text x="830.4" y="1513" font-size="10.8" textLength="24" lengthAdjust="spacingAndGlyphs" transform="rotate(-90 830.4 1513)" stroke="#454547" stroke-width="0.1" stroke-linejoin="round">2001</text>
<text x="850" y="1513" font-size="10.8" textLength="24" lengthAdjust="spacingAndGlyphs" transform="rotate(-90 850 1513)" stroke="#454547" stroke-width="0.1" stroke-linejoin="round">2002</text>
<text x="870.4" y="1513" font-size="10.8" textLength="24" lengthAdjust="spacingAndGlyphs" transform="rotate(-90 870.4 1513)" stroke="#454547" stroke-width="0.1" stroke-linejoin="round">2003</text>
<text x="890" y="1513" font-size="10.8" textLength="24" lengthAdjust="spacingAndGlyphs" transform="rotate(-90 890 1513)" stroke="#454547" stroke-width="0.1" stroke-linejoin="round">2004</text>
<text x="910" y="1513" font-size="10.8" textLength="24" lengthAdjust="spacingAndGlyphs" transform="rotate(-90 910 1513)" stroke="#454547" stroke-width="0.1" stroke-linejoin="round">2005</text>
<text x="930" y="1513" font-size="10.8" textLength="24" lengthAdjust="spacingAndGlyphs" transform="rotate(-90 930 1513)" stroke="#454547" stroke-width="0.1" stroke-linejoin="round">2006</text>
<text x="950" y="1513" font-size="10.8" textLength="24" lengthAdjust="spacingAndGlyphs" transform="rotate(-90 950 1513)" stroke="#454547" stroke-width="0.1" stroke-linejoin="round">2007</text>
<text x="969.4" y="1513" font-size="10.8" textLength="24" lengthAdjust="spacingAndGlyphs" transform="rotate(-90 969.4 1513)" stroke="#454547" stroke-width="0.1" stroke-linejoin="round">2008</text>
<text x="989.4" y="1513" font-size="10.8" textLength="24" lengthAdjust="spacingAndGlyphs" transform="rotate(-90 989.4 1513)" stroke="#454547" stroke-width="0.1" stroke-linejoin="round">2009</text>
<text x="1009" y="1513" font-size="10.8" textLength="24" lengthAdjust="spacingAndGlyphs" transform="rotate(-90 1009 1513)" stroke="#454547" stroke-width="0.1" stroke-linejoin="round">2010</text>
<text x="1029" y="1513" font-size="10.8" textLength="24" lengthAdjust="spacingAndGlyphs" transform="rotate(-90 1029 1513)" stroke="#454547" stroke-width="0.1" stroke-linejoin="round">2011</text>
<text x="1049" y="1513" font-size="10.8" textLength="24" lengthAdjust="spacingAndGlyphs" transform="rotate(-90 1049 1513)" stroke="#454547" stroke-width="0.1" stroke-linejoin="round">2012</text>
<text x="1069" y="1513" font-size="10.8" textLength="24" lengthAdjust="spacingAndGlyphs" transform="rotate(-90 1069 1513)" stroke="#454547" stroke-width="0.1" stroke-linejoin="round">2013</text>
<text x="1089" y="1513" font-size="10.8" textLength="24" lengthAdjust="spacingAndGlyphs" transform="rotate(-90 1089 1513)" stroke="#454547" stroke-width="0.1" stroke-linejoin="round">2014</text>
<text x="1108.4" y="1513" font-size="10.8" textLength="24" lengthAdjust="spacingAndGlyphs" transform="rotate(-90 1108.4 1513)" stroke="#454547" stroke-width="0.1" stroke-linejoin="round">2015</text>
<text x="1128.4" y="1513" font-size="10.8" textLength="24" lengthAdjust="spacingAndGlyphs" transform="rotate(-90 1128.4 1513)" stroke="#454547" stroke-width="0.1" stroke-linejoin="round">2016</text>
<text x="1148.4" y="1512" font-size="10.8" textLength="23" lengthAdjust="spacingAndGlyphs" transform="rotate(-90 1148.4 1512)" stroke="#454547" stroke-width="0.1" stroke-linejoin="round">2017r</text>
<text x="1168.4" y="1515.6" font-size="10.8" textLength="26.6" lengthAdjust="spacingAndGlyphs" transform="rotate(-90 1168.4 1515.6)" stroke="#454547" stroke-width="0.1" stroke-linejoin="round">2018e</text>
<rect x="829" y="1325" width="7.6" height="7.4" fill="#ed1c24"/>
<text x="842.6" y="1331.6" font-size="10.3" textLength="147.4" lengthAdjust="spacingAndGlyphs" stroke="#454547" stroke-width="0.3" stroke-linejoin="round">Government operating revenue</text>
<rect x="829" y="1338.4" width="7.6" height="7.2" fill="#bdbfc1"/>
<text x="842.6" y="1345.4" font-size="10.3" textLength="82.4" lengthAdjust="spacingAndGlyphs" stroke="#454547" stroke-width="0.3" stroke-linejoin="round">Total expenditure</text>
<rect x="829" y="1351.6" width="7.6" height="7.4" fill="#92278f"/>
<text x="842.6" y="1358.6" font-size="10.3" textLength="108.4" lengthAdjust="spacingAndGlyphs" stroke="#454547" stroke-width="0.3" stroke-linejoin="round">Primary surplus/ deficit</text>
<text x="758.4" y="1402.6" font-size="9.6" textLength="24.6" lengthAdjust="spacingAndGlyphs" transform="rotate(-90 758.4 1402.6)" stroke="#454547" stroke-width="0.1" stroke-linejoin="round">S$ &#x27;mil</text>
</svg>
</body>
</html>
